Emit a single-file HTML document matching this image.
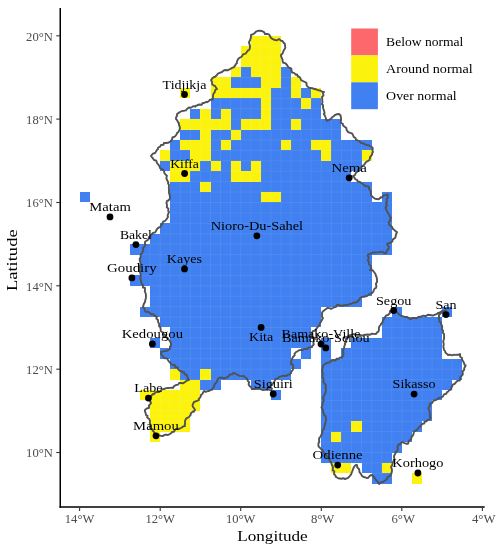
<!DOCTYPE html>
<html><head><meta charset="utf-8"><title>Map</title>
<style>
html,body{margin:0;padding:0;background:#fff;}
svg{display:block;}
text{font-family:"Liberation Serif",serif;font-size:12.8px;fill:#000;}
text.ax{font-size:13.3px;fill:#4d4d4d;}
text.ttl{font-size:15.5px;fill:#000;}
text.lg{font-size:12.2px;fill:#000;}
</style></head><body>
<svg width="499" height="550" viewBox="0 0 499 550">
<rect width="499" height="550" fill="#fff"/>
<g shape-rendering="crispEdges">
<rect x="250.79" y="35.80" width="10.07" height="10.42" fill="#FBF30E"/>
<rect x="260.86" y="35.80" width="10.07" height="10.42" fill="#FBF30E"/>
<rect x="270.93" y="35.80" width="10.07" height="10.42" fill="#FBF30E"/>
<rect x="240.72" y="46.22" width="10.07" height="10.42" fill="#FBF30E"/>
<rect x="250.79" y="46.22" width="10.07" height="10.42" fill="#FBF30E"/>
<rect x="260.86" y="46.22" width="10.07" height="10.42" fill="#FBF30E"/>
<rect x="270.93" y="46.22" width="10.07" height="10.42" fill="#FBF30E"/>
<rect x="240.72" y="56.63" width="10.07" height="10.42" fill="#FBF30E"/>
<rect x="250.79" y="56.63" width="10.07" height="10.42" fill="#FBF30E"/>
<rect x="260.86" y="56.63" width="10.07" height="10.42" fill="#FBF30E"/>
<rect x="270.93" y="56.63" width="10.07" height="10.42" fill="#FBF30E"/>
<rect x="230.65" y="67.05" width="10.07" height="10.42" fill="#FBF30E"/>
<rect x="240.72" y="67.05" width="10.07" height="10.42" fill="#4080F0"/>
<rect x="250.79" y="67.05" width="10.07" height="10.42" fill="#FBF30E"/>
<rect x="260.86" y="67.05" width="10.07" height="10.42" fill="#FBF30E"/>
<rect x="270.93" y="67.05" width="10.07" height="10.42" fill="#FBF30E"/>
<rect x="281.00" y="67.05" width="10.07" height="10.42" fill="#4080F0"/>
<rect x="210.51" y="77.47" width="10.07" height="10.42" fill="#FBF30E"/>
<rect x="220.58" y="77.47" width="10.07" height="10.42" fill="#FBF30E"/>
<rect x="230.65" y="77.47" width="10.07" height="10.42" fill="#4080F0"/>
<rect x="240.72" y="77.47" width="10.07" height="10.42" fill="#4080F0"/>
<rect x="250.79" y="77.47" width="10.07" height="10.42" fill="#4080F0"/>
<rect x="260.86" y="77.47" width="10.07" height="10.42" fill="#FBF30E"/>
<rect x="270.93" y="77.47" width="10.07" height="10.42" fill="#FBF30E"/>
<rect x="281.00" y="77.47" width="10.07" height="10.42" fill="#4080F0"/>
<rect x="291.07" y="77.47" width="10.07" height="10.42" fill="#FBF30E"/>
<rect x="180.30" y="87.89" width="10.07" height="10.42" fill="#FBF30E"/>
<rect x="210.51" y="87.89" width="10.07" height="10.42" fill="#FBF30E"/>
<rect x="220.58" y="87.89" width="10.07" height="10.42" fill="#FBF30E"/>
<rect x="230.65" y="87.89" width="10.07" height="10.42" fill="#FBF30E"/>
<rect x="240.72" y="87.89" width="10.07" height="10.42" fill="#FBF30E"/>
<rect x="250.79" y="87.89" width="10.07" height="10.42" fill="#FBF30E"/>
<rect x="260.86" y="87.89" width="10.07" height="10.42" fill="#FBF30E"/>
<rect x="270.93" y="87.89" width="10.07" height="10.42" fill="#4080F0"/>
<rect x="281.00" y="87.89" width="10.07" height="10.42" fill="#4080F0"/>
<rect x="291.07" y="87.89" width="10.07" height="10.42" fill="#FBF30E"/>
<rect x="301.14" y="87.89" width="10.07" height="10.42" fill="#4080F0"/>
<rect x="311.21" y="87.89" width="10.07" height="10.42" fill="#FBF30E"/>
<rect x="210.51" y="98.31" width="10.07" height="10.42" fill="#4080F0"/>
<rect x="220.58" y="98.31" width="10.07" height="10.42" fill="#4080F0"/>
<rect x="230.65" y="98.31" width="10.07" height="10.42" fill="#4080F0"/>
<rect x="240.72" y="98.31" width="10.07" height="10.42" fill="#4080F0"/>
<rect x="250.79" y="98.31" width="10.07" height="10.42" fill="#4080F0"/>
<rect x="260.86" y="98.31" width="10.07" height="10.42" fill="#FBF30E"/>
<rect x="270.93" y="98.31" width="10.07" height="10.42" fill="#4080F0"/>
<rect x="281.00" y="98.31" width="10.07" height="10.42" fill="#4080F0"/>
<rect x="291.07" y="98.31" width="10.07" height="10.42" fill="#4080F0"/>
<rect x="301.14" y="98.31" width="10.07" height="10.42" fill="#FBF30E"/>
<rect x="311.21" y="98.31" width="10.07" height="10.42" fill="#4080F0"/>
<rect x="190.37" y="108.72" width="10.07" height="10.42" fill="#4080F0"/>
<rect x="200.44" y="108.72" width="10.07" height="10.42" fill="#FBF30E"/>
<rect x="210.51" y="108.72" width="10.07" height="10.42" fill="#4080F0"/>
<rect x="220.58" y="108.72" width="10.07" height="10.42" fill="#FBF30E"/>
<rect x="230.65" y="108.72" width="10.07" height="10.42" fill="#4080F0"/>
<rect x="240.72" y="108.72" width="10.07" height="10.42" fill="#4080F0"/>
<rect x="250.79" y="108.72" width="10.07" height="10.42" fill="#4080F0"/>
<rect x="260.86" y="108.72" width="10.07" height="10.42" fill="#FBF30E"/>
<rect x="270.93" y="108.72" width="10.07" height="10.42" fill="#4080F0"/>
<rect x="281.00" y="108.72" width="10.07" height="10.42" fill="#4080F0"/>
<rect x="291.07" y="108.72" width="10.07" height="10.42" fill="#4080F0"/>
<rect x="301.14" y="108.72" width="10.07" height="10.42" fill="#4080F0"/>
<rect x="311.21" y="108.72" width="10.07" height="10.42" fill="#4080F0"/>
<rect x="180.30" y="119.14" width="10.07" height="10.42" fill="#FBF30E"/>
<rect x="190.37" y="119.14" width="10.07" height="10.42" fill="#FBF30E"/>
<rect x="200.44" y="119.14" width="10.07" height="10.42" fill="#FBF30E"/>
<rect x="210.51" y="119.14" width="10.07" height="10.42" fill="#FBF30E"/>
<rect x="220.58" y="119.14" width="10.07" height="10.42" fill="#FBF30E"/>
<rect x="230.65" y="119.14" width="10.07" height="10.42" fill="#4080F0"/>
<rect x="240.72" y="119.14" width="10.07" height="10.42" fill="#FBF30E"/>
<rect x="250.79" y="119.14" width="10.07" height="10.42" fill="#FBF30E"/>
<rect x="260.86" y="119.14" width="10.07" height="10.42" fill="#FBF30E"/>
<rect x="270.93" y="119.14" width="10.07" height="10.42" fill="#4080F0"/>
<rect x="281.00" y="119.14" width="10.07" height="10.42" fill="#4080F0"/>
<rect x="291.07" y="119.14" width="10.07" height="10.42" fill="#FBF30E"/>
<rect x="301.14" y="119.14" width="10.07" height="10.42" fill="#4080F0"/>
<rect x="311.21" y="119.14" width="10.07" height="10.42" fill="#4080F0"/>
<rect x="321.28" y="119.14" width="10.07" height="10.42" fill="#4080F0"/>
<rect x="331.35" y="119.14" width="10.07" height="10.42" fill="#4080F0"/>
<rect x="180.30" y="129.56" width="10.07" height="10.42" fill="#4080F0"/>
<rect x="190.37" y="129.56" width="10.07" height="10.42" fill="#4080F0"/>
<rect x="200.44" y="129.56" width="10.07" height="10.42" fill="#FBF30E"/>
<rect x="210.51" y="129.56" width="10.07" height="10.42" fill="#4080F0"/>
<rect x="220.58" y="129.56" width="10.07" height="10.42" fill="#4080F0"/>
<rect x="230.65" y="129.56" width="10.07" height="10.42" fill="#FBF30E"/>
<rect x="240.72" y="129.56" width="10.07" height="10.42" fill="#4080F0"/>
<rect x="250.79" y="129.56" width="10.07" height="10.42" fill="#4080F0"/>
<rect x="260.86" y="129.56" width="10.07" height="10.42" fill="#4080F0"/>
<rect x="270.93" y="129.56" width="10.07" height="10.42" fill="#4080F0"/>
<rect x="281.00" y="129.56" width="10.07" height="10.42" fill="#4080F0"/>
<rect x="291.07" y="129.56" width="10.07" height="10.42" fill="#4080F0"/>
<rect x="301.14" y="129.56" width="10.07" height="10.42" fill="#4080F0"/>
<rect x="311.21" y="129.56" width="10.07" height="10.42" fill="#4080F0"/>
<rect x="321.28" y="129.56" width="10.07" height="10.42" fill="#4080F0"/>
<rect x="331.35" y="129.56" width="10.07" height="10.42" fill="#4080F0"/>
<rect x="170.23" y="139.97" width="10.07" height="10.42" fill="#4080F0"/>
<rect x="180.30" y="139.97" width="10.07" height="10.42" fill="#FBF30E"/>
<rect x="190.37" y="139.97" width="10.07" height="10.42" fill="#FBF30E"/>
<rect x="200.44" y="139.97" width="10.07" height="10.42" fill="#FBF30E"/>
<rect x="210.51" y="139.97" width="10.07" height="10.42" fill="#4080F0"/>
<rect x="220.58" y="139.97" width="10.07" height="10.42" fill="#FBF30E"/>
<rect x="230.65" y="139.97" width="10.07" height="10.42" fill="#4080F0"/>
<rect x="240.72" y="139.97" width="10.07" height="10.42" fill="#4080F0"/>
<rect x="250.79" y="139.97" width="10.07" height="10.42" fill="#4080F0"/>
<rect x="260.86" y="139.97" width="10.07" height="10.42" fill="#4080F0"/>
<rect x="270.93" y="139.97" width="10.07" height="10.42" fill="#4080F0"/>
<rect x="281.00" y="139.97" width="10.07" height="10.42" fill="#FBF30E"/>
<rect x="291.07" y="139.97" width="10.07" height="10.42" fill="#4080F0"/>
<rect x="301.14" y="139.97" width="10.07" height="10.42" fill="#4080F0"/>
<rect x="311.21" y="139.97" width="10.07" height="10.42" fill="#FBF30E"/>
<rect x="321.28" y="139.97" width="10.07" height="10.42" fill="#FBF30E"/>
<rect x="331.35" y="139.97" width="10.07" height="10.42" fill="#4080F0"/>
<rect x="341.42" y="139.97" width="10.07" height="10.42" fill="#4080F0"/>
<rect x="351.49" y="139.97" width="10.07" height="10.42" fill="#4080F0"/>
<rect x="361.56" y="139.97" width="10.07" height="10.42" fill="#4080F0"/>
<rect x="160.16" y="150.39" width="10.07" height="10.42" fill="#FBF30E"/>
<rect x="170.23" y="150.39" width="10.07" height="10.42" fill="#4080F0"/>
<rect x="180.30" y="150.39" width="10.07" height="10.42" fill="#4080F0"/>
<rect x="190.37" y="150.39" width="10.07" height="10.42" fill="#FBF30E"/>
<rect x="200.44" y="150.39" width="10.07" height="10.42" fill="#FBF30E"/>
<rect x="210.51" y="150.39" width="10.07" height="10.42" fill="#4080F0"/>
<rect x="220.58" y="150.39" width="10.07" height="10.42" fill="#4080F0"/>
<rect x="230.65" y="150.39" width="10.07" height="10.42" fill="#4080F0"/>
<rect x="240.72" y="150.39" width="10.07" height="10.42" fill="#4080F0"/>
<rect x="250.79" y="150.39" width="10.07" height="10.42" fill="#4080F0"/>
<rect x="260.86" y="150.39" width="10.07" height="10.42" fill="#4080F0"/>
<rect x="270.93" y="150.39" width="10.07" height="10.42" fill="#4080F0"/>
<rect x="281.00" y="150.39" width="10.07" height="10.42" fill="#4080F0"/>
<rect x="291.07" y="150.39" width="10.07" height="10.42" fill="#4080F0"/>
<rect x="301.14" y="150.39" width="10.07" height="10.42" fill="#4080F0"/>
<rect x="311.21" y="150.39" width="10.07" height="10.42" fill="#4080F0"/>
<rect x="321.28" y="150.39" width="10.07" height="10.42" fill="#FBF30E"/>
<rect x="331.35" y="150.39" width="10.07" height="10.42" fill="#4080F0"/>
<rect x="341.42" y="150.39" width="10.07" height="10.42" fill="#4080F0"/>
<rect x="351.49" y="150.39" width="10.07" height="10.42" fill="#4080F0"/>
<rect x="361.56" y="150.39" width="10.07" height="10.42" fill="#FBF30E"/>
<rect x="160.16" y="160.81" width="10.07" height="10.42" fill="#4080F0"/>
<rect x="170.23" y="160.81" width="10.07" height="10.42" fill="#FBF30E"/>
<rect x="180.30" y="160.81" width="10.07" height="10.42" fill="#FBF30E"/>
<rect x="190.37" y="160.81" width="10.07" height="10.42" fill="#FBF30E"/>
<rect x="200.44" y="160.81" width="10.07" height="10.42" fill="#4080F0"/>
<rect x="210.51" y="160.81" width="10.07" height="10.42" fill="#FBF30E"/>
<rect x="220.58" y="160.81" width="10.07" height="10.42" fill="#4080F0"/>
<rect x="230.65" y="160.81" width="10.07" height="10.42" fill="#FBF30E"/>
<rect x="240.72" y="160.81" width="10.07" height="10.42" fill="#4080F0"/>
<rect x="250.79" y="160.81" width="10.07" height="10.42" fill="#FBF30E"/>
<rect x="260.86" y="160.81" width="10.07" height="10.42" fill="#4080F0"/>
<rect x="270.93" y="160.81" width="10.07" height="10.42" fill="#4080F0"/>
<rect x="281.00" y="160.81" width="10.07" height="10.42" fill="#4080F0"/>
<rect x="291.07" y="160.81" width="10.07" height="10.42" fill="#4080F0"/>
<rect x="301.14" y="160.81" width="10.07" height="10.42" fill="#4080F0"/>
<rect x="311.21" y="160.81" width="10.07" height="10.42" fill="#4080F0"/>
<rect x="321.28" y="160.81" width="10.07" height="10.42" fill="#4080F0"/>
<rect x="331.35" y="160.81" width="10.07" height="10.42" fill="#4080F0"/>
<rect x="341.42" y="160.81" width="10.07" height="10.42" fill="#4080F0"/>
<rect x="351.49" y="160.81" width="10.07" height="10.42" fill="#4080F0"/>
<rect x="170.23" y="171.23" width="10.07" height="10.42" fill="#FBF30E"/>
<rect x="180.30" y="171.23" width="10.07" height="10.42" fill="#FBF30E"/>
<rect x="190.37" y="171.23" width="10.07" height="10.42" fill="#4080F0"/>
<rect x="200.44" y="171.23" width="10.07" height="10.42" fill="#4080F0"/>
<rect x="210.51" y="171.23" width="10.07" height="10.42" fill="#4080F0"/>
<rect x="220.58" y="171.23" width="10.07" height="10.42" fill="#4080F0"/>
<rect x="230.65" y="171.23" width="10.07" height="10.42" fill="#FBF30E"/>
<rect x="240.72" y="171.23" width="10.07" height="10.42" fill="#FBF30E"/>
<rect x="250.79" y="171.23" width="10.07" height="10.42" fill="#FBF30E"/>
<rect x="260.86" y="171.23" width="10.07" height="10.42" fill="#4080F0"/>
<rect x="270.93" y="171.23" width="10.07" height="10.42" fill="#4080F0"/>
<rect x="281.00" y="171.23" width="10.07" height="10.42" fill="#4080F0"/>
<rect x="291.07" y="171.23" width="10.07" height="10.42" fill="#4080F0"/>
<rect x="301.14" y="171.23" width="10.07" height="10.42" fill="#4080F0"/>
<rect x="311.21" y="171.23" width="10.07" height="10.42" fill="#4080F0"/>
<rect x="321.28" y="171.23" width="10.07" height="10.42" fill="#4080F0"/>
<rect x="331.35" y="171.23" width="10.07" height="10.42" fill="#4080F0"/>
<rect x="341.42" y="171.23" width="10.07" height="10.42" fill="#4080F0"/>
<rect x="170.23" y="181.65" width="10.07" height="10.42" fill="#4080F0"/>
<rect x="180.30" y="181.65" width="10.07" height="10.42" fill="#4080F0"/>
<rect x="190.37" y="181.65" width="10.07" height="10.42" fill="#4080F0"/>
<rect x="200.44" y="181.65" width="10.07" height="10.42" fill="#FBF30E"/>
<rect x="210.51" y="181.65" width="10.07" height="10.42" fill="#4080F0"/>
<rect x="220.58" y="181.65" width="10.07" height="10.42" fill="#4080F0"/>
<rect x="230.65" y="181.65" width="10.07" height="10.42" fill="#4080F0"/>
<rect x="240.72" y="181.65" width="10.07" height="10.42" fill="#4080F0"/>
<rect x="250.79" y="181.65" width="10.07" height="10.42" fill="#4080F0"/>
<rect x="260.86" y="181.65" width="10.07" height="10.42" fill="#4080F0"/>
<rect x="270.93" y="181.65" width="10.07" height="10.42" fill="#4080F0"/>
<rect x="281.00" y="181.65" width="10.07" height="10.42" fill="#4080F0"/>
<rect x="291.07" y="181.65" width="10.07" height="10.42" fill="#4080F0"/>
<rect x="301.14" y="181.65" width="10.07" height="10.42" fill="#4080F0"/>
<rect x="311.21" y="181.65" width="10.07" height="10.42" fill="#4080F0"/>
<rect x="321.28" y="181.65" width="10.07" height="10.42" fill="#4080F0"/>
<rect x="331.35" y="181.65" width="10.07" height="10.42" fill="#4080F0"/>
<rect x="341.42" y="181.65" width="10.07" height="10.42" fill="#4080F0"/>
<rect x="351.49" y="181.65" width="10.07" height="10.42" fill="#4080F0"/>
<rect x="361.56" y="181.65" width="10.07" height="10.42" fill="#4080F0"/>
<rect x="79.60" y="192.06" width="10.07" height="10.42" fill="#4080F0"/>
<rect x="170.23" y="192.06" width="10.07" height="10.42" fill="#4080F0"/>
<rect x="180.30" y="192.06" width="10.07" height="10.42" fill="#4080F0"/>
<rect x="190.37" y="192.06" width="10.07" height="10.42" fill="#4080F0"/>
<rect x="200.44" y="192.06" width="10.07" height="10.42" fill="#4080F0"/>
<rect x="210.51" y="192.06" width="10.07" height="10.42" fill="#4080F0"/>
<rect x="220.58" y="192.06" width="10.07" height="10.42" fill="#4080F0"/>
<rect x="230.65" y="192.06" width="10.07" height="10.42" fill="#4080F0"/>
<rect x="240.72" y="192.06" width="10.07" height="10.42" fill="#4080F0"/>
<rect x="250.79" y="192.06" width="10.07" height="10.42" fill="#4080F0"/>
<rect x="260.86" y="192.06" width="10.07" height="10.42" fill="#FBF30E"/>
<rect x="270.93" y="192.06" width="10.07" height="10.42" fill="#FBF30E"/>
<rect x="281.00" y="192.06" width="10.07" height="10.42" fill="#4080F0"/>
<rect x="291.07" y="192.06" width="10.07" height="10.42" fill="#4080F0"/>
<rect x="301.14" y="192.06" width="10.07" height="10.42" fill="#4080F0"/>
<rect x="311.21" y="192.06" width="10.07" height="10.42" fill="#4080F0"/>
<rect x="321.28" y="192.06" width="10.07" height="10.42" fill="#4080F0"/>
<rect x="331.35" y="192.06" width="10.07" height="10.42" fill="#4080F0"/>
<rect x="341.42" y="192.06" width="10.07" height="10.42" fill="#4080F0"/>
<rect x="351.49" y="192.06" width="10.07" height="10.42" fill="#4080F0"/>
<rect x="361.56" y="192.06" width="10.07" height="10.42" fill="#4080F0"/>
<rect x="381.70" y="192.06" width="10.07" height="10.42" fill="#4080F0"/>
<rect x="170.23" y="202.48" width="10.07" height="10.42" fill="#4080F0"/>
<rect x="180.30" y="202.48" width="10.07" height="10.42" fill="#4080F0"/>
<rect x="190.37" y="202.48" width="10.07" height="10.42" fill="#4080F0"/>
<rect x="200.44" y="202.48" width="10.07" height="10.42" fill="#4080F0"/>
<rect x="210.51" y="202.48" width="10.07" height="10.42" fill="#4080F0"/>
<rect x="220.58" y="202.48" width="10.07" height="10.42" fill="#4080F0"/>
<rect x="230.65" y="202.48" width="10.07" height="10.42" fill="#4080F0"/>
<rect x="240.72" y="202.48" width="10.07" height="10.42" fill="#4080F0"/>
<rect x="250.79" y="202.48" width="10.07" height="10.42" fill="#4080F0"/>
<rect x="260.86" y="202.48" width="10.07" height="10.42" fill="#4080F0"/>
<rect x="270.93" y="202.48" width="10.07" height="10.42" fill="#4080F0"/>
<rect x="281.00" y="202.48" width="10.07" height="10.42" fill="#4080F0"/>
<rect x="291.07" y="202.48" width="10.07" height="10.42" fill="#4080F0"/>
<rect x="301.14" y="202.48" width="10.07" height="10.42" fill="#4080F0"/>
<rect x="311.21" y="202.48" width="10.07" height="10.42" fill="#4080F0"/>
<rect x="321.28" y="202.48" width="10.07" height="10.42" fill="#4080F0"/>
<rect x="331.35" y="202.48" width="10.07" height="10.42" fill="#4080F0"/>
<rect x="341.42" y="202.48" width="10.07" height="10.42" fill="#4080F0"/>
<rect x="351.49" y="202.48" width="10.07" height="10.42" fill="#4080F0"/>
<rect x="361.56" y="202.48" width="10.07" height="10.42" fill="#4080F0"/>
<rect x="371.63" y="202.48" width="10.07" height="10.42" fill="#4080F0"/>
<rect x="381.70" y="202.48" width="10.07" height="10.42" fill="#4080F0"/>
<rect x="170.23" y="212.90" width="10.07" height="10.42" fill="#4080F0"/>
<rect x="180.30" y="212.90" width="10.07" height="10.42" fill="#4080F0"/>
<rect x="190.37" y="212.90" width="10.07" height="10.42" fill="#4080F0"/>
<rect x="200.44" y="212.90" width="10.07" height="10.42" fill="#4080F0"/>
<rect x="210.51" y="212.90" width="10.07" height="10.42" fill="#4080F0"/>
<rect x="220.58" y="212.90" width="10.07" height="10.42" fill="#4080F0"/>
<rect x="230.65" y="212.90" width="10.07" height="10.42" fill="#4080F0"/>
<rect x="240.72" y="212.90" width="10.07" height="10.42" fill="#4080F0"/>
<rect x="250.79" y="212.90" width="10.07" height="10.42" fill="#4080F0"/>
<rect x="260.86" y="212.90" width="10.07" height="10.42" fill="#4080F0"/>
<rect x="270.93" y="212.90" width="10.07" height="10.42" fill="#4080F0"/>
<rect x="281.00" y="212.90" width="10.07" height="10.42" fill="#4080F0"/>
<rect x="291.07" y="212.90" width="10.07" height="10.42" fill="#4080F0"/>
<rect x="301.14" y="212.90" width="10.07" height="10.42" fill="#4080F0"/>
<rect x="311.21" y="212.90" width="10.07" height="10.42" fill="#4080F0"/>
<rect x="321.28" y="212.90" width="10.07" height="10.42" fill="#4080F0"/>
<rect x="331.35" y="212.90" width="10.07" height="10.42" fill="#4080F0"/>
<rect x="341.42" y="212.90" width="10.07" height="10.42" fill="#4080F0"/>
<rect x="351.49" y="212.90" width="10.07" height="10.42" fill="#4080F0"/>
<rect x="361.56" y="212.90" width="10.07" height="10.42" fill="#4080F0"/>
<rect x="371.63" y="212.90" width="10.07" height="10.42" fill="#4080F0"/>
<rect x="381.70" y="212.90" width="10.07" height="10.42" fill="#4080F0"/>
<rect x="160.16" y="223.31" width="10.07" height="10.42" fill="#4080F0"/>
<rect x="170.23" y="223.31" width="10.07" height="10.42" fill="#4080F0"/>
<rect x="180.30" y="223.31" width="10.07" height="10.42" fill="#4080F0"/>
<rect x="190.37" y="223.31" width="10.07" height="10.42" fill="#4080F0"/>
<rect x="200.44" y="223.31" width="10.07" height="10.42" fill="#4080F0"/>
<rect x="210.51" y="223.31" width="10.07" height="10.42" fill="#4080F0"/>
<rect x="220.58" y="223.31" width="10.07" height="10.42" fill="#4080F0"/>
<rect x="230.65" y="223.31" width="10.07" height="10.42" fill="#4080F0"/>
<rect x="240.72" y="223.31" width="10.07" height="10.42" fill="#4080F0"/>
<rect x="250.79" y="223.31" width="10.07" height="10.42" fill="#4080F0"/>
<rect x="260.86" y="223.31" width="10.07" height="10.42" fill="#4080F0"/>
<rect x="270.93" y="223.31" width="10.07" height="10.42" fill="#4080F0"/>
<rect x="281.00" y="223.31" width="10.07" height="10.42" fill="#4080F0"/>
<rect x="291.07" y="223.31" width="10.07" height="10.42" fill="#4080F0"/>
<rect x="301.14" y="223.31" width="10.07" height="10.42" fill="#4080F0"/>
<rect x="311.21" y="223.31" width="10.07" height="10.42" fill="#4080F0"/>
<rect x="321.28" y="223.31" width="10.07" height="10.42" fill="#4080F0"/>
<rect x="331.35" y="223.31" width="10.07" height="10.42" fill="#4080F0"/>
<rect x="341.42" y="223.31" width="10.07" height="10.42" fill="#4080F0"/>
<rect x="351.49" y="223.31" width="10.07" height="10.42" fill="#4080F0"/>
<rect x="361.56" y="223.31" width="10.07" height="10.42" fill="#4080F0"/>
<rect x="371.63" y="223.31" width="10.07" height="10.42" fill="#4080F0"/>
<rect x="381.70" y="223.31" width="10.07" height="10.42" fill="#4080F0"/>
<rect x="150.09" y="233.73" width="10.07" height="10.42" fill="#4080F0"/>
<rect x="160.16" y="233.73" width="10.07" height="10.42" fill="#4080F0"/>
<rect x="170.23" y="233.73" width="10.07" height="10.42" fill="#4080F0"/>
<rect x="180.30" y="233.73" width="10.07" height="10.42" fill="#4080F0"/>
<rect x="190.37" y="233.73" width="10.07" height="10.42" fill="#4080F0"/>
<rect x="200.44" y="233.73" width="10.07" height="10.42" fill="#4080F0"/>
<rect x="210.51" y="233.73" width="10.07" height="10.42" fill="#4080F0"/>
<rect x="220.58" y="233.73" width="10.07" height="10.42" fill="#4080F0"/>
<rect x="230.65" y="233.73" width="10.07" height="10.42" fill="#4080F0"/>
<rect x="240.72" y="233.73" width="10.07" height="10.42" fill="#4080F0"/>
<rect x="250.79" y="233.73" width="10.07" height="10.42" fill="#4080F0"/>
<rect x="260.86" y="233.73" width="10.07" height="10.42" fill="#4080F0"/>
<rect x="270.93" y="233.73" width="10.07" height="10.42" fill="#4080F0"/>
<rect x="281.00" y="233.73" width="10.07" height="10.42" fill="#4080F0"/>
<rect x="291.07" y="233.73" width="10.07" height="10.42" fill="#4080F0"/>
<rect x="301.14" y="233.73" width="10.07" height="10.42" fill="#4080F0"/>
<rect x="311.21" y="233.73" width="10.07" height="10.42" fill="#4080F0"/>
<rect x="321.28" y="233.73" width="10.07" height="10.42" fill="#4080F0"/>
<rect x="331.35" y="233.73" width="10.07" height="10.42" fill="#4080F0"/>
<rect x="341.42" y="233.73" width="10.07" height="10.42" fill="#4080F0"/>
<rect x="351.49" y="233.73" width="10.07" height="10.42" fill="#4080F0"/>
<rect x="361.56" y="233.73" width="10.07" height="10.42" fill="#4080F0"/>
<rect x="371.63" y="233.73" width="10.07" height="10.42" fill="#4080F0"/>
<rect x="381.70" y="233.73" width="10.07" height="10.42" fill="#4080F0"/>
<rect x="129.95" y="244.15" width="10.07" height="10.42" fill="#4080F0"/>
<rect x="140.02" y="244.15" width="10.07" height="10.42" fill="#4080F0"/>
<rect x="150.09" y="244.15" width="10.07" height="10.42" fill="#4080F0"/>
<rect x="160.16" y="244.15" width="10.07" height="10.42" fill="#4080F0"/>
<rect x="170.23" y="244.15" width="10.07" height="10.42" fill="#4080F0"/>
<rect x="180.30" y="244.15" width="10.07" height="10.42" fill="#4080F0"/>
<rect x="190.37" y="244.15" width="10.07" height="10.42" fill="#4080F0"/>
<rect x="200.44" y="244.15" width="10.07" height="10.42" fill="#4080F0"/>
<rect x="210.51" y="244.15" width="10.07" height="10.42" fill="#4080F0"/>
<rect x="220.58" y="244.15" width="10.07" height="10.42" fill="#4080F0"/>
<rect x="230.65" y="244.15" width="10.07" height="10.42" fill="#4080F0"/>
<rect x="240.72" y="244.15" width="10.07" height="10.42" fill="#4080F0"/>
<rect x="250.79" y="244.15" width="10.07" height="10.42" fill="#4080F0"/>
<rect x="260.86" y="244.15" width="10.07" height="10.42" fill="#4080F0"/>
<rect x="270.93" y="244.15" width="10.07" height="10.42" fill="#4080F0"/>
<rect x="281.00" y="244.15" width="10.07" height="10.42" fill="#4080F0"/>
<rect x="291.07" y="244.15" width="10.07" height="10.42" fill="#4080F0"/>
<rect x="301.14" y="244.15" width="10.07" height="10.42" fill="#4080F0"/>
<rect x="311.21" y="244.15" width="10.07" height="10.42" fill="#4080F0"/>
<rect x="321.28" y="244.15" width="10.07" height="10.42" fill="#4080F0"/>
<rect x="331.35" y="244.15" width="10.07" height="10.42" fill="#4080F0"/>
<rect x="341.42" y="244.15" width="10.07" height="10.42" fill="#4080F0"/>
<rect x="351.49" y="244.15" width="10.07" height="10.42" fill="#4080F0"/>
<rect x="361.56" y="244.15" width="10.07" height="10.42" fill="#4080F0"/>
<rect x="371.63" y="244.15" width="10.07" height="10.42" fill="#4080F0"/>
<rect x="381.70" y="244.15" width="10.07" height="10.42" fill="#4080F0"/>
<rect x="140.02" y="254.57" width="10.07" height="10.42" fill="#4080F0"/>
<rect x="150.09" y="254.57" width="10.07" height="10.42" fill="#4080F0"/>
<rect x="160.16" y="254.57" width="10.07" height="10.42" fill="#4080F0"/>
<rect x="170.23" y="254.57" width="10.07" height="10.42" fill="#4080F0"/>
<rect x="180.30" y="254.57" width="10.07" height="10.42" fill="#4080F0"/>
<rect x="190.37" y="254.57" width="10.07" height="10.42" fill="#4080F0"/>
<rect x="200.44" y="254.57" width="10.07" height="10.42" fill="#4080F0"/>
<rect x="210.51" y="254.57" width="10.07" height="10.42" fill="#4080F0"/>
<rect x="220.58" y="254.57" width="10.07" height="10.42" fill="#4080F0"/>
<rect x="230.65" y="254.57" width="10.07" height="10.42" fill="#4080F0"/>
<rect x="240.72" y="254.57" width="10.07" height="10.42" fill="#4080F0"/>
<rect x="250.79" y="254.57" width="10.07" height="10.42" fill="#4080F0"/>
<rect x="260.86" y="254.57" width="10.07" height="10.42" fill="#4080F0"/>
<rect x="270.93" y="254.57" width="10.07" height="10.42" fill="#4080F0"/>
<rect x="281.00" y="254.57" width="10.07" height="10.42" fill="#4080F0"/>
<rect x="291.07" y="254.57" width="10.07" height="10.42" fill="#4080F0"/>
<rect x="301.14" y="254.57" width="10.07" height="10.42" fill="#4080F0"/>
<rect x="311.21" y="254.57" width="10.07" height="10.42" fill="#4080F0"/>
<rect x="321.28" y="254.57" width="10.07" height="10.42" fill="#4080F0"/>
<rect x="331.35" y="254.57" width="10.07" height="10.42" fill="#4080F0"/>
<rect x="341.42" y="254.57" width="10.07" height="10.42" fill="#4080F0"/>
<rect x="351.49" y="254.57" width="10.07" height="10.42" fill="#4080F0"/>
<rect x="361.56" y="254.57" width="10.07" height="10.42" fill="#4080F0"/>
<rect x="140.02" y="264.99" width="10.07" height="10.42" fill="#4080F0"/>
<rect x="150.09" y="264.99" width="10.07" height="10.42" fill="#4080F0"/>
<rect x="160.16" y="264.99" width="10.07" height="10.42" fill="#4080F0"/>
<rect x="170.23" y="264.99" width="10.07" height="10.42" fill="#4080F0"/>
<rect x="180.30" y="264.99" width="10.07" height="10.42" fill="#4080F0"/>
<rect x="190.37" y="264.99" width="10.07" height="10.42" fill="#4080F0"/>
<rect x="200.44" y="264.99" width="10.07" height="10.42" fill="#4080F0"/>
<rect x="210.51" y="264.99" width="10.07" height="10.42" fill="#4080F0"/>
<rect x="220.58" y="264.99" width="10.07" height="10.42" fill="#4080F0"/>
<rect x="230.65" y="264.99" width="10.07" height="10.42" fill="#4080F0"/>
<rect x="240.72" y="264.99" width="10.07" height="10.42" fill="#4080F0"/>
<rect x="250.79" y="264.99" width="10.07" height="10.42" fill="#4080F0"/>
<rect x="260.86" y="264.99" width="10.07" height="10.42" fill="#4080F0"/>
<rect x="270.93" y="264.99" width="10.07" height="10.42" fill="#4080F0"/>
<rect x="281.00" y="264.99" width="10.07" height="10.42" fill="#4080F0"/>
<rect x="291.07" y="264.99" width="10.07" height="10.42" fill="#4080F0"/>
<rect x="301.14" y="264.99" width="10.07" height="10.42" fill="#4080F0"/>
<rect x="311.21" y="264.99" width="10.07" height="10.42" fill="#4080F0"/>
<rect x="321.28" y="264.99" width="10.07" height="10.42" fill="#4080F0"/>
<rect x="331.35" y="264.99" width="10.07" height="10.42" fill="#4080F0"/>
<rect x="341.42" y="264.99" width="10.07" height="10.42" fill="#4080F0"/>
<rect x="351.49" y="264.99" width="10.07" height="10.42" fill="#4080F0"/>
<rect x="361.56" y="264.99" width="10.07" height="10.42" fill="#4080F0"/>
<rect x="129.95" y="275.40" width="10.07" height="10.42" fill="#4080F0"/>
<rect x="140.02" y="275.40" width="10.07" height="10.42" fill="#4080F0"/>
<rect x="150.09" y="275.40" width="10.07" height="10.42" fill="#4080F0"/>
<rect x="160.16" y="275.40" width="10.07" height="10.42" fill="#4080F0"/>
<rect x="170.23" y="275.40" width="10.07" height="10.42" fill="#4080F0"/>
<rect x="180.30" y="275.40" width="10.07" height="10.42" fill="#4080F0"/>
<rect x="190.37" y="275.40" width="10.07" height="10.42" fill="#4080F0"/>
<rect x="200.44" y="275.40" width="10.07" height="10.42" fill="#4080F0"/>
<rect x="210.51" y="275.40" width="10.07" height="10.42" fill="#4080F0"/>
<rect x="220.58" y="275.40" width="10.07" height="10.42" fill="#4080F0"/>
<rect x="230.65" y="275.40" width="10.07" height="10.42" fill="#4080F0"/>
<rect x="240.72" y="275.40" width="10.07" height="10.42" fill="#4080F0"/>
<rect x="250.79" y="275.40" width="10.07" height="10.42" fill="#4080F0"/>
<rect x="260.86" y="275.40" width="10.07" height="10.42" fill="#4080F0"/>
<rect x="270.93" y="275.40" width="10.07" height="10.42" fill="#4080F0"/>
<rect x="281.00" y="275.40" width="10.07" height="10.42" fill="#4080F0"/>
<rect x="291.07" y="275.40" width="10.07" height="10.42" fill="#4080F0"/>
<rect x="301.14" y="275.40" width="10.07" height="10.42" fill="#4080F0"/>
<rect x="311.21" y="275.40" width="10.07" height="10.42" fill="#4080F0"/>
<rect x="321.28" y="275.40" width="10.07" height="10.42" fill="#4080F0"/>
<rect x="331.35" y="275.40" width="10.07" height="10.42" fill="#4080F0"/>
<rect x="341.42" y="275.40" width="10.07" height="10.42" fill="#4080F0"/>
<rect x="351.49" y="275.40" width="10.07" height="10.42" fill="#4080F0"/>
<rect x="361.56" y="275.40" width="10.07" height="10.42" fill="#4080F0"/>
<rect x="150.09" y="285.82" width="10.07" height="10.42" fill="#4080F0"/>
<rect x="160.16" y="285.82" width="10.07" height="10.42" fill="#4080F0"/>
<rect x="170.23" y="285.82" width="10.07" height="10.42" fill="#4080F0"/>
<rect x="180.30" y="285.82" width="10.07" height="10.42" fill="#4080F0"/>
<rect x="190.37" y="285.82" width="10.07" height="10.42" fill="#4080F0"/>
<rect x="200.44" y="285.82" width="10.07" height="10.42" fill="#4080F0"/>
<rect x="210.51" y="285.82" width="10.07" height="10.42" fill="#4080F0"/>
<rect x="220.58" y="285.82" width="10.07" height="10.42" fill="#4080F0"/>
<rect x="230.65" y="285.82" width="10.07" height="10.42" fill="#4080F0"/>
<rect x="240.72" y="285.82" width="10.07" height="10.42" fill="#4080F0"/>
<rect x="250.79" y="285.82" width="10.07" height="10.42" fill="#4080F0"/>
<rect x="260.86" y="285.82" width="10.07" height="10.42" fill="#4080F0"/>
<rect x="270.93" y="285.82" width="10.07" height="10.42" fill="#4080F0"/>
<rect x="281.00" y="285.82" width="10.07" height="10.42" fill="#4080F0"/>
<rect x="291.07" y="285.82" width="10.07" height="10.42" fill="#4080F0"/>
<rect x="301.14" y="285.82" width="10.07" height="10.42" fill="#4080F0"/>
<rect x="311.21" y="285.82" width="10.07" height="10.42" fill="#4080F0"/>
<rect x="321.28" y="285.82" width="10.07" height="10.42" fill="#4080F0"/>
<rect x="331.35" y="285.82" width="10.07" height="10.42" fill="#4080F0"/>
<rect x="341.42" y="285.82" width="10.07" height="10.42" fill="#4080F0"/>
<rect x="351.49" y="285.82" width="10.07" height="10.42" fill="#4080F0"/>
<rect x="361.56" y="285.82" width="10.07" height="10.42" fill="#4080F0"/>
<rect x="150.09" y="296.24" width="10.07" height="10.42" fill="#4080F0"/>
<rect x="160.16" y="296.24" width="10.07" height="10.42" fill="#4080F0"/>
<rect x="170.23" y="296.24" width="10.07" height="10.42" fill="#4080F0"/>
<rect x="180.30" y="296.24" width="10.07" height="10.42" fill="#4080F0"/>
<rect x="190.37" y="296.24" width="10.07" height="10.42" fill="#4080F0"/>
<rect x="200.44" y="296.24" width="10.07" height="10.42" fill="#4080F0"/>
<rect x="210.51" y="296.24" width="10.07" height="10.42" fill="#4080F0"/>
<rect x="220.58" y="296.24" width="10.07" height="10.42" fill="#4080F0"/>
<rect x="230.65" y="296.24" width="10.07" height="10.42" fill="#4080F0"/>
<rect x="240.72" y="296.24" width="10.07" height="10.42" fill="#4080F0"/>
<rect x="250.79" y="296.24" width="10.07" height="10.42" fill="#4080F0"/>
<rect x="260.86" y="296.24" width="10.07" height="10.42" fill="#4080F0"/>
<rect x="270.93" y="296.24" width="10.07" height="10.42" fill="#4080F0"/>
<rect x="281.00" y="296.24" width="10.07" height="10.42" fill="#4080F0"/>
<rect x="291.07" y="296.24" width="10.07" height="10.42" fill="#4080F0"/>
<rect x="301.14" y="296.24" width="10.07" height="10.42" fill="#4080F0"/>
<rect x="311.21" y="296.24" width="10.07" height="10.42" fill="#4080F0"/>
<rect x="321.28" y="296.24" width="10.07" height="10.42" fill="#4080F0"/>
<rect x="331.35" y="296.24" width="10.07" height="10.42" fill="#4080F0"/>
<rect x="341.42" y="296.24" width="10.07" height="10.42" fill="#4080F0"/>
<rect x="351.49" y="296.24" width="10.07" height="10.42" fill="#4080F0"/>
<rect x="140.02" y="306.66" width="10.07" height="10.42" fill="#4080F0"/>
<rect x="150.09" y="306.66" width="10.07" height="10.42" fill="#4080F0"/>
<rect x="160.16" y="306.66" width="10.07" height="10.42" fill="#4080F0"/>
<rect x="170.23" y="306.66" width="10.07" height="10.42" fill="#4080F0"/>
<rect x="180.30" y="306.66" width="10.07" height="10.42" fill="#4080F0"/>
<rect x="190.37" y="306.66" width="10.07" height="10.42" fill="#4080F0"/>
<rect x="200.44" y="306.66" width="10.07" height="10.42" fill="#4080F0"/>
<rect x="210.51" y="306.66" width="10.07" height="10.42" fill="#4080F0"/>
<rect x="220.58" y="306.66" width="10.07" height="10.42" fill="#4080F0"/>
<rect x="230.65" y="306.66" width="10.07" height="10.42" fill="#4080F0"/>
<rect x="240.72" y="306.66" width="10.07" height="10.42" fill="#4080F0"/>
<rect x="250.79" y="306.66" width="10.07" height="10.42" fill="#4080F0"/>
<rect x="260.86" y="306.66" width="10.07" height="10.42" fill="#4080F0"/>
<rect x="270.93" y="306.66" width="10.07" height="10.42" fill="#4080F0"/>
<rect x="281.00" y="306.66" width="10.07" height="10.42" fill="#4080F0"/>
<rect x="291.07" y="306.66" width="10.07" height="10.42" fill="#4080F0"/>
<rect x="301.14" y="306.66" width="10.07" height="10.42" fill="#4080F0"/>
<rect x="311.21" y="306.66" width="10.07" height="10.42" fill="#4080F0"/>
<rect x="391.77" y="306.66" width="10.07" height="10.42" fill="#4080F0"/>
<rect x="442.12" y="306.66" width="10.07" height="10.42" fill="#4080F0"/>
<rect x="160.16" y="317.07" width="10.07" height="10.42" fill="#4080F0"/>
<rect x="170.23" y="317.07" width="10.07" height="10.42" fill="#4080F0"/>
<rect x="180.30" y="317.07" width="10.07" height="10.42" fill="#4080F0"/>
<rect x="190.37" y="317.07" width="10.07" height="10.42" fill="#4080F0"/>
<rect x="200.44" y="317.07" width="10.07" height="10.42" fill="#4080F0"/>
<rect x="210.51" y="317.07" width="10.07" height="10.42" fill="#4080F0"/>
<rect x="220.58" y="317.07" width="10.07" height="10.42" fill="#4080F0"/>
<rect x="230.65" y="317.07" width="10.07" height="10.42" fill="#4080F0"/>
<rect x="240.72" y="317.07" width="10.07" height="10.42" fill="#4080F0"/>
<rect x="250.79" y="317.07" width="10.07" height="10.42" fill="#4080F0"/>
<rect x="260.86" y="317.07" width="10.07" height="10.42" fill="#4080F0"/>
<rect x="270.93" y="317.07" width="10.07" height="10.42" fill="#4080F0"/>
<rect x="281.00" y="317.07" width="10.07" height="10.42" fill="#4080F0"/>
<rect x="291.07" y="317.07" width="10.07" height="10.42" fill="#4080F0"/>
<rect x="301.14" y="317.07" width="10.07" height="10.42" fill="#4080F0"/>
<rect x="311.21" y="317.07" width="10.07" height="10.42" fill="#4080F0"/>
<rect x="381.70" y="317.07" width="10.07" height="10.42" fill="#4080F0"/>
<rect x="391.77" y="317.07" width="10.07" height="10.42" fill="#4080F0"/>
<rect x="401.84" y="317.07" width="10.07" height="10.42" fill="#4080F0"/>
<rect x="411.91" y="317.07" width="10.07" height="10.42" fill="#4080F0"/>
<rect x="421.98" y="317.07" width="10.07" height="10.42" fill="#4080F0"/>
<rect x="432.05" y="317.07" width="10.07" height="10.42" fill="#4080F0"/>
<rect x="170.23" y="327.49" width="10.07" height="10.42" fill="#4080F0"/>
<rect x="180.30" y="327.49" width="10.07" height="10.42" fill="#4080F0"/>
<rect x="190.37" y="327.49" width="10.07" height="10.42" fill="#4080F0"/>
<rect x="200.44" y="327.49" width="10.07" height="10.42" fill="#4080F0"/>
<rect x="210.51" y="327.49" width="10.07" height="10.42" fill="#4080F0"/>
<rect x="220.58" y="327.49" width="10.07" height="10.42" fill="#4080F0"/>
<rect x="230.65" y="327.49" width="10.07" height="10.42" fill="#4080F0"/>
<rect x="240.72" y="327.49" width="10.07" height="10.42" fill="#4080F0"/>
<rect x="250.79" y="327.49" width="10.07" height="10.42" fill="#4080F0"/>
<rect x="260.86" y="327.49" width="10.07" height="10.42" fill="#4080F0"/>
<rect x="270.93" y="327.49" width="10.07" height="10.42" fill="#4080F0"/>
<rect x="281.00" y="327.49" width="10.07" height="10.42" fill="#4080F0"/>
<rect x="291.07" y="327.49" width="10.07" height="10.42" fill="#4080F0"/>
<rect x="301.14" y="327.49" width="10.07" height="10.42" fill="#4080F0"/>
<rect x="381.70" y="327.49" width="10.07" height="10.42" fill="#4080F0"/>
<rect x="391.77" y="327.49" width="10.07" height="10.42" fill="#4080F0"/>
<rect x="401.84" y="327.49" width="10.07" height="10.42" fill="#4080F0"/>
<rect x="411.91" y="327.49" width="10.07" height="10.42" fill="#4080F0"/>
<rect x="421.98" y="327.49" width="10.07" height="10.42" fill="#4080F0"/>
<rect x="432.05" y="327.49" width="10.07" height="10.42" fill="#4080F0"/>
<rect x="150.09" y="337.91" width="10.07" height="10.42" fill="#4080F0"/>
<rect x="170.23" y="337.91" width="10.07" height="10.42" fill="#4080F0"/>
<rect x="180.30" y="337.91" width="10.07" height="10.42" fill="#4080F0"/>
<rect x="190.37" y="337.91" width="10.07" height="10.42" fill="#4080F0"/>
<rect x="200.44" y="337.91" width="10.07" height="10.42" fill="#4080F0"/>
<rect x="210.51" y="337.91" width="10.07" height="10.42" fill="#4080F0"/>
<rect x="220.58" y="337.91" width="10.07" height="10.42" fill="#4080F0"/>
<rect x="230.65" y="337.91" width="10.07" height="10.42" fill="#4080F0"/>
<rect x="240.72" y="337.91" width="10.07" height="10.42" fill="#4080F0"/>
<rect x="250.79" y="337.91" width="10.07" height="10.42" fill="#4080F0"/>
<rect x="260.86" y="337.91" width="10.07" height="10.42" fill="#4080F0"/>
<rect x="270.93" y="337.91" width="10.07" height="10.42" fill="#4080F0"/>
<rect x="281.00" y="337.91" width="10.07" height="10.42" fill="#4080F0"/>
<rect x="291.07" y="337.91" width="10.07" height="10.42" fill="#4080F0"/>
<rect x="301.14" y="337.91" width="10.07" height="10.42" fill="#4080F0"/>
<rect x="321.28" y="337.91" width="10.07" height="10.42" fill="#4080F0"/>
<rect x="351.49" y="337.91" width="10.07" height="10.42" fill="#4080F0"/>
<rect x="361.56" y="337.91" width="10.07" height="10.42" fill="#4080F0"/>
<rect x="371.63" y="337.91" width="10.07" height="10.42" fill="#4080F0"/>
<rect x="381.70" y="337.91" width="10.07" height="10.42" fill="#4080F0"/>
<rect x="391.77" y="337.91" width="10.07" height="10.42" fill="#4080F0"/>
<rect x="401.84" y="337.91" width="10.07" height="10.42" fill="#4080F0"/>
<rect x="411.91" y="337.91" width="10.07" height="10.42" fill="#4080F0"/>
<rect x="421.98" y="337.91" width="10.07" height="10.42" fill="#4080F0"/>
<rect x="432.05" y="337.91" width="10.07" height="10.42" fill="#4080F0"/>
<rect x="160.16" y="348.32" width="10.07" height="10.42" fill="#4080F0"/>
<rect x="170.23" y="348.32" width="10.07" height="10.42" fill="#4080F0"/>
<rect x="180.30" y="348.32" width="10.07" height="10.42" fill="#4080F0"/>
<rect x="190.37" y="348.32" width="10.07" height="10.42" fill="#4080F0"/>
<rect x="200.44" y="348.32" width="10.07" height="10.42" fill="#4080F0"/>
<rect x="210.51" y="348.32" width="10.07" height="10.42" fill="#4080F0"/>
<rect x="220.58" y="348.32" width="10.07" height="10.42" fill="#4080F0"/>
<rect x="230.65" y="348.32" width="10.07" height="10.42" fill="#4080F0"/>
<rect x="240.72" y="348.32" width="10.07" height="10.42" fill="#4080F0"/>
<rect x="250.79" y="348.32" width="10.07" height="10.42" fill="#4080F0"/>
<rect x="260.86" y="348.32" width="10.07" height="10.42" fill="#4080F0"/>
<rect x="270.93" y="348.32" width="10.07" height="10.42" fill="#4080F0"/>
<rect x="281.00" y="348.32" width="10.07" height="10.42" fill="#4080F0"/>
<rect x="301.14" y="348.32" width="10.07" height="10.42" fill="#4080F0"/>
<rect x="321.28" y="348.32" width="10.07" height="10.42" fill="#4080F0"/>
<rect x="341.42" y="348.32" width="10.07" height="10.42" fill="#4080F0"/>
<rect x="351.49" y="348.32" width="10.07" height="10.42" fill="#4080F0"/>
<rect x="361.56" y="348.32" width="10.07" height="10.42" fill="#4080F0"/>
<rect x="371.63" y="348.32" width="10.07" height="10.42" fill="#4080F0"/>
<rect x="381.70" y="348.32" width="10.07" height="10.42" fill="#4080F0"/>
<rect x="391.77" y="348.32" width="10.07" height="10.42" fill="#4080F0"/>
<rect x="401.84" y="348.32" width="10.07" height="10.42" fill="#4080F0"/>
<rect x="411.91" y="348.32" width="10.07" height="10.42" fill="#4080F0"/>
<rect x="421.98" y="348.32" width="10.07" height="10.42" fill="#4080F0"/>
<rect x="432.05" y="348.32" width="10.07" height="10.42" fill="#4080F0"/>
<rect x="170.23" y="358.74" width="10.07" height="10.42" fill="#4080F0"/>
<rect x="180.30" y="358.74" width="10.07" height="10.42" fill="#4080F0"/>
<rect x="190.37" y="358.74" width="10.07" height="10.42" fill="#4080F0"/>
<rect x="200.44" y="358.74" width="10.07" height="10.42" fill="#4080F0"/>
<rect x="210.51" y="358.74" width="10.07" height="10.42" fill="#4080F0"/>
<rect x="220.58" y="358.74" width="10.07" height="10.42" fill="#4080F0"/>
<rect x="230.65" y="358.74" width="10.07" height="10.42" fill="#4080F0"/>
<rect x="240.72" y="358.74" width="10.07" height="10.42" fill="#4080F0"/>
<rect x="250.79" y="358.74" width="10.07" height="10.42" fill="#4080F0"/>
<rect x="260.86" y="358.74" width="10.07" height="10.42" fill="#4080F0"/>
<rect x="270.93" y="358.74" width="10.07" height="10.42" fill="#4080F0"/>
<rect x="281.00" y="358.74" width="10.07" height="10.42" fill="#4080F0"/>
<rect x="291.07" y="358.74" width="10.07" height="10.42" fill="#4080F0"/>
<rect x="321.28" y="358.74" width="10.07" height="10.42" fill="#4080F0"/>
<rect x="331.35" y="358.74" width="10.07" height="10.42" fill="#4080F0"/>
<rect x="341.42" y="358.74" width="10.07" height="10.42" fill="#4080F0"/>
<rect x="351.49" y="358.74" width="10.07" height="10.42" fill="#4080F0"/>
<rect x="361.56" y="358.74" width="10.07" height="10.42" fill="#4080F0"/>
<rect x="371.63" y="358.74" width="10.07" height="10.42" fill="#4080F0"/>
<rect x="381.70" y="358.74" width="10.07" height="10.42" fill="#4080F0"/>
<rect x="391.77" y="358.74" width="10.07" height="10.42" fill="#4080F0"/>
<rect x="401.84" y="358.74" width="10.07" height="10.42" fill="#4080F0"/>
<rect x="411.91" y="358.74" width="10.07" height="10.42" fill="#4080F0"/>
<rect x="421.98" y="358.74" width="10.07" height="10.42" fill="#4080F0"/>
<rect x="432.05" y="358.74" width="10.07" height="10.42" fill="#4080F0"/>
<rect x="442.12" y="358.74" width="10.07" height="10.42" fill="#4080F0"/>
<rect x="452.19" y="358.74" width="10.07" height="10.42" fill="#4080F0"/>
<rect x="170.23" y="369.16" width="10.07" height="10.42" fill="#FBF30E"/>
<rect x="180.30" y="369.16" width="10.07" height="10.42" fill="#4080F0"/>
<rect x="190.37" y="369.16" width="10.07" height="10.42" fill="#4080F0"/>
<rect x="200.44" y="369.16" width="10.07" height="10.42" fill="#FBF30E"/>
<rect x="210.51" y="369.16" width="10.07" height="10.42" fill="#4080F0"/>
<rect x="220.58" y="369.16" width="10.07" height="10.42" fill="#4080F0"/>
<rect x="230.65" y="369.16" width="10.07" height="10.42" fill="#4080F0"/>
<rect x="240.72" y="369.16" width="10.07" height="10.42" fill="#4080F0"/>
<rect x="250.79" y="369.16" width="10.07" height="10.42" fill="#4080F0"/>
<rect x="260.86" y="369.16" width="10.07" height="10.42" fill="#4080F0"/>
<rect x="270.93" y="369.16" width="10.07" height="10.42" fill="#4080F0"/>
<rect x="281.00" y="369.16" width="10.07" height="10.42" fill="#4080F0"/>
<rect x="321.28" y="369.16" width="10.07" height="10.42" fill="#4080F0"/>
<rect x="331.35" y="369.16" width="10.07" height="10.42" fill="#4080F0"/>
<rect x="341.42" y="369.16" width="10.07" height="10.42" fill="#4080F0"/>
<rect x="351.49" y="369.16" width="10.07" height="10.42" fill="#4080F0"/>
<rect x="361.56" y="369.16" width="10.07" height="10.42" fill="#4080F0"/>
<rect x="371.63" y="369.16" width="10.07" height="10.42" fill="#4080F0"/>
<rect x="381.70" y="369.16" width="10.07" height="10.42" fill="#4080F0"/>
<rect x="391.77" y="369.16" width="10.07" height="10.42" fill="#4080F0"/>
<rect x="401.84" y="369.16" width="10.07" height="10.42" fill="#4080F0"/>
<rect x="411.91" y="369.16" width="10.07" height="10.42" fill="#4080F0"/>
<rect x="421.98" y="369.16" width="10.07" height="10.42" fill="#4080F0"/>
<rect x="432.05" y="369.16" width="10.07" height="10.42" fill="#4080F0"/>
<rect x="442.12" y="369.16" width="10.07" height="10.42" fill="#4080F0"/>
<rect x="452.19" y="369.16" width="10.07" height="10.42" fill="#4080F0"/>
<rect x="180.30" y="379.58" width="10.07" height="10.42" fill="#FBF30E"/>
<rect x="190.37" y="379.58" width="10.07" height="10.42" fill="#FBF30E"/>
<rect x="200.44" y="379.58" width="10.07" height="10.42" fill="#4080F0"/>
<rect x="210.51" y="379.58" width="10.07" height="10.42" fill="#4080F0"/>
<rect x="250.79" y="379.58" width="10.07" height="10.42" fill="#4080F0"/>
<rect x="260.86" y="379.58" width="10.07" height="10.42" fill="#4080F0"/>
<rect x="321.28" y="379.58" width="10.07" height="10.42" fill="#4080F0"/>
<rect x="331.35" y="379.58" width="10.07" height="10.42" fill="#4080F0"/>
<rect x="341.42" y="379.58" width="10.07" height="10.42" fill="#4080F0"/>
<rect x="351.49" y="379.58" width="10.07" height="10.42" fill="#4080F0"/>
<rect x="361.56" y="379.58" width="10.07" height="10.42" fill="#4080F0"/>
<rect x="371.63" y="379.58" width="10.07" height="10.42" fill="#4080F0"/>
<rect x="381.70" y="379.58" width="10.07" height="10.42" fill="#4080F0"/>
<rect x="391.77" y="379.58" width="10.07" height="10.42" fill="#4080F0"/>
<rect x="401.84" y="379.58" width="10.07" height="10.42" fill="#4080F0"/>
<rect x="411.91" y="379.58" width="10.07" height="10.42" fill="#4080F0"/>
<rect x="421.98" y="379.58" width="10.07" height="10.42" fill="#4080F0"/>
<rect x="432.05" y="379.58" width="10.07" height="10.42" fill="#4080F0"/>
<rect x="442.12" y="379.58" width="10.07" height="10.42" fill="#4080F0"/>
<rect x="140.02" y="390.00" width="10.07" height="10.42" fill="#FBF30E"/>
<rect x="150.09" y="390.00" width="10.07" height="10.42" fill="#FBF30E"/>
<rect x="160.16" y="390.00" width="10.07" height="10.42" fill="#FBF30E"/>
<rect x="170.23" y="390.00" width="10.07" height="10.42" fill="#FBF30E"/>
<rect x="180.30" y="390.00" width="10.07" height="10.42" fill="#FBF30E"/>
<rect x="190.37" y="390.00" width="10.07" height="10.42" fill="#FBF30E"/>
<rect x="270.93" y="390.00" width="10.07" height="10.42" fill="#4080F0"/>
<rect x="321.28" y="390.00" width="10.07" height="10.42" fill="#4080F0"/>
<rect x="331.35" y="390.00" width="10.07" height="10.42" fill="#4080F0"/>
<rect x="341.42" y="390.00" width="10.07" height="10.42" fill="#4080F0"/>
<rect x="351.49" y="390.00" width="10.07" height="10.42" fill="#4080F0"/>
<rect x="361.56" y="390.00" width="10.07" height="10.42" fill="#4080F0"/>
<rect x="371.63" y="390.00" width="10.07" height="10.42" fill="#4080F0"/>
<rect x="381.70" y="390.00" width="10.07" height="10.42" fill="#4080F0"/>
<rect x="391.77" y="390.00" width="10.07" height="10.42" fill="#4080F0"/>
<rect x="401.84" y="390.00" width="10.07" height="10.42" fill="#4080F0"/>
<rect x="411.91" y="390.00" width="10.07" height="10.42" fill="#4080F0"/>
<rect x="421.98" y="390.00" width="10.07" height="10.42" fill="#4080F0"/>
<rect x="432.05" y="390.00" width="10.07" height="10.42" fill="#4080F0"/>
<rect x="150.09" y="400.41" width="10.07" height="10.42" fill="#FBF30E"/>
<rect x="160.16" y="400.41" width="10.07" height="10.42" fill="#FBF30E"/>
<rect x="170.23" y="400.41" width="10.07" height="10.42" fill="#FBF30E"/>
<rect x="180.30" y="400.41" width="10.07" height="10.42" fill="#FBF30E"/>
<rect x="190.37" y="400.41" width="10.07" height="10.42" fill="#FBF30E"/>
<rect x="321.28" y="400.41" width="10.07" height="10.42" fill="#4080F0"/>
<rect x="331.35" y="400.41" width="10.07" height="10.42" fill="#4080F0"/>
<rect x="341.42" y="400.41" width="10.07" height="10.42" fill="#4080F0"/>
<rect x="351.49" y="400.41" width="10.07" height="10.42" fill="#4080F0"/>
<rect x="361.56" y="400.41" width="10.07" height="10.42" fill="#4080F0"/>
<rect x="371.63" y="400.41" width="10.07" height="10.42" fill="#4080F0"/>
<rect x="381.70" y="400.41" width="10.07" height="10.42" fill="#4080F0"/>
<rect x="391.77" y="400.41" width="10.07" height="10.42" fill="#4080F0"/>
<rect x="401.84" y="400.41" width="10.07" height="10.42" fill="#4080F0"/>
<rect x="411.91" y="400.41" width="10.07" height="10.42" fill="#4080F0"/>
<rect x="421.98" y="400.41" width="10.07" height="10.42" fill="#4080F0"/>
<rect x="150.09" y="410.83" width="10.07" height="10.42" fill="#FBF30E"/>
<rect x="160.16" y="410.83" width="10.07" height="10.42" fill="#FBF30E"/>
<rect x="170.23" y="410.83" width="10.07" height="10.42" fill="#FBF30E"/>
<rect x="180.30" y="410.83" width="10.07" height="10.42" fill="#FBF30E"/>
<rect x="321.28" y="410.83" width="10.07" height="10.42" fill="#4080F0"/>
<rect x="331.35" y="410.83" width="10.07" height="10.42" fill="#4080F0"/>
<rect x="341.42" y="410.83" width="10.07" height="10.42" fill="#4080F0"/>
<rect x="351.49" y="410.83" width="10.07" height="10.42" fill="#4080F0"/>
<rect x="361.56" y="410.83" width="10.07" height="10.42" fill="#4080F0"/>
<rect x="371.63" y="410.83" width="10.07" height="10.42" fill="#4080F0"/>
<rect x="381.70" y="410.83" width="10.07" height="10.42" fill="#4080F0"/>
<rect x="391.77" y="410.83" width="10.07" height="10.42" fill="#4080F0"/>
<rect x="401.84" y="410.83" width="10.07" height="10.42" fill="#4080F0"/>
<rect x="411.91" y="410.83" width="10.07" height="10.42" fill="#4080F0"/>
<rect x="421.98" y="410.83" width="10.07" height="10.42" fill="#4080F0"/>
<rect x="150.09" y="421.25" width="10.07" height="10.42" fill="#FBF30E"/>
<rect x="160.16" y="421.25" width="10.07" height="10.42" fill="#FBF30E"/>
<rect x="170.23" y="421.25" width="10.07" height="10.42" fill="#FBF30E"/>
<rect x="180.30" y="421.25" width="10.07" height="10.42" fill="#FBF30E"/>
<rect x="321.28" y="421.25" width="10.07" height="10.42" fill="#4080F0"/>
<rect x="331.35" y="421.25" width="10.07" height="10.42" fill="#4080F0"/>
<rect x="341.42" y="421.25" width="10.07" height="10.42" fill="#4080F0"/>
<rect x="351.49" y="421.25" width="10.07" height="10.42" fill="#FBF30E"/>
<rect x="361.56" y="421.25" width="10.07" height="10.42" fill="#4080F0"/>
<rect x="371.63" y="421.25" width="10.07" height="10.42" fill="#4080F0"/>
<rect x="381.70" y="421.25" width="10.07" height="10.42" fill="#4080F0"/>
<rect x="391.77" y="421.25" width="10.07" height="10.42" fill="#4080F0"/>
<rect x="401.84" y="421.25" width="10.07" height="10.42" fill="#4080F0"/>
<rect x="411.91" y="421.25" width="10.07" height="10.42" fill="#4080F0"/>
<rect x="150.09" y="431.67" width="10.07" height="10.42" fill="#FBF30E"/>
<rect x="321.28" y="431.67" width="10.07" height="10.42" fill="#4080F0"/>
<rect x="331.35" y="431.67" width="10.07" height="10.42" fill="#FBF30E"/>
<rect x="341.42" y="431.67" width="10.07" height="10.42" fill="#4080F0"/>
<rect x="351.49" y="431.67" width="10.07" height="10.42" fill="#4080F0"/>
<rect x="361.56" y="431.67" width="10.07" height="10.42" fill="#4080F0"/>
<rect x="371.63" y="431.67" width="10.07" height="10.42" fill="#4080F0"/>
<rect x="381.70" y="431.67" width="10.07" height="10.42" fill="#4080F0"/>
<rect x="391.77" y="431.67" width="10.07" height="10.42" fill="#4080F0"/>
<rect x="401.84" y="431.67" width="10.07" height="10.42" fill="#4080F0"/>
<rect x="321.28" y="442.08" width="10.07" height="10.42" fill="#4080F0"/>
<rect x="331.35" y="442.08" width="10.07" height="10.42" fill="#4080F0"/>
<rect x="341.42" y="442.08" width="10.07" height="10.42" fill="#4080F0"/>
<rect x="351.49" y="442.08" width="10.07" height="10.42" fill="#4080F0"/>
<rect x="361.56" y="442.08" width="10.07" height="10.42" fill="#4080F0"/>
<rect x="371.63" y="442.08" width="10.07" height="10.42" fill="#4080F0"/>
<rect x="381.70" y="442.08" width="10.07" height="10.42" fill="#4080F0"/>
<rect x="391.77" y="442.08" width="10.07" height="10.42" fill="#4080F0"/>
<rect x="321.28" y="452.50" width="10.07" height="10.42" fill="#4080F0"/>
<rect x="331.35" y="452.50" width="10.07" height="10.42" fill="#4080F0"/>
<rect x="341.42" y="452.50" width="10.07" height="10.42" fill="#4080F0"/>
<rect x="351.49" y="452.50" width="10.07" height="10.42" fill="#4080F0"/>
<rect x="361.56" y="452.50" width="10.07" height="10.42" fill="#4080F0"/>
<rect x="371.63" y="452.50" width="10.07" height="10.42" fill="#4080F0"/>
<rect x="381.70" y="452.50" width="10.07" height="10.42" fill="#4080F0"/>
<rect x="331.35" y="462.92" width="10.07" height="10.42" fill="#FBF30E"/>
<rect x="341.42" y="462.92" width="10.07" height="10.42" fill="#FBF30E"/>
<rect x="361.56" y="462.92" width="10.07" height="10.42" fill="#4080F0"/>
<rect x="371.63" y="462.92" width="10.07" height="10.42" fill="#4080F0"/>
<rect x="381.70" y="462.92" width="10.07" height="10.42" fill="#FBF30E"/>
<rect x="371.63" y="473.34" width="10.07" height="10.42" fill="#4080F0"/>
<rect x="381.70" y="473.34" width="10.07" height="10.42" fill="#4080F0"/>
<rect x="411.91" y="473.34" width="10.07" height="10.42" fill="#FBF30E"/>
</g>
<path d="M260.86 35.80v10.42M250.79 46.22h10.07M270.93 35.80v10.42M260.86 46.22h10.07M270.93 46.22h10.07M250.79 46.22v10.42M240.72 56.63h10.07M260.86 46.22v10.42M250.79 56.63h10.07M270.93 46.22v10.42M260.86 56.63h10.07M270.93 56.63h10.07M250.79 56.63v10.42M240.72 67.05h10.07M260.86 56.63v10.42M250.79 67.05h10.07M270.93 56.63v10.42M260.86 67.05h10.07M270.93 67.05h10.07M240.72 67.05v10.42M230.65 77.47h10.07M250.79 67.05v10.42M240.72 77.47h10.07M260.86 67.05v10.42M250.79 77.47h10.07M270.93 67.05v10.42M260.86 77.47h10.07M281.00 67.05v10.42M270.93 77.47h10.07M281.00 77.47h10.07M220.58 77.47v10.42M210.51 87.89h10.07M230.65 77.47v10.42M220.58 87.89h10.07M240.72 77.47v10.42M230.65 87.89h10.07M250.79 77.47v10.42M240.72 87.89h10.07M260.86 77.47v10.42M250.79 87.89h10.07M270.93 77.47v10.42M260.86 87.89h10.07M281.00 77.47v10.42M270.93 87.89h10.07M291.07 77.47v10.42M281.00 87.89h10.07M291.07 87.89h10.07M220.58 87.89v10.42M210.51 98.31h10.07M230.65 87.89v10.42M220.58 98.31h10.07M240.72 87.89v10.42M230.65 98.31h10.07M250.79 87.89v10.42M240.72 98.31h10.07M260.86 87.89v10.42M250.79 98.31h10.07M270.93 87.89v10.42M260.86 98.31h10.07M281.00 87.89v10.42M270.93 98.31h10.07M291.07 87.89v10.42M281.00 98.31h10.07M301.14 87.89v10.42M291.07 98.31h10.07M311.21 87.89v10.42M301.14 98.31h10.07M311.21 98.31h10.07M220.58 98.31v10.42M210.51 108.72h10.07M230.65 98.31v10.42M220.58 108.72h10.07M240.72 98.31v10.42M230.65 108.72h10.07M250.79 98.31v10.42M240.72 108.72h10.07M260.86 98.31v10.42M250.79 108.72h10.07M270.93 98.31v10.42M260.86 108.72h10.07M281.00 98.31v10.42M270.93 108.72h10.07M291.07 98.31v10.42M281.00 108.72h10.07M301.14 98.31v10.42M291.07 108.72h10.07M311.21 98.31v10.42M301.14 108.72h10.07M311.21 108.72h10.07M200.44 108.72v10.42M190.37 119.14h10.07M210.51 108.72v10.42M200.44 119.14h10.07M220.58 108.72v10.42M210.51 119.14h10.07M230.65 108.72v10.42M220.58 119.14h10.07M240.72 108.72v10.42M230.65 119.14h10.07M250.79 108.72v10.42M240.72 119.14h10.07M260.86 108.72v10.42M250.79 119.14h10.07M270.93 108.72v10.42M260.86 119.14h10.07M281.00 108.72v10.42M270.93 119.14h10.07M291.07 108.72v10.42M281.00 119.14h10.07M301.14 108.72v10.42M291.07 119.14h10.07M311.21 108.72v10.42M301.14 119.14h10.07M311.21 119.14h10.07M190.37 119.14v10.42M180.30 129.56h10.07M200.44 119.14v10.42M190.37 129.56h10.07M210.51 119.14v10.42M200.44 129.56h10.07M220.58 119.14v10.42M210.51 129.56h10.07M230.65 119.14v10.42M220.58 129.56h10.07M240.72 119.14v10.42M230.65 129.56h10.07M250.79 119.14v10.42M240.72 129.56h10.07M260.86 119.14v10.42M250.79 129.56h10.07M270.93 119.14v10.42M260.86 129.56h10.07M281.00 119.14v10.42M270.93 129.56h10.07M291.07 119.14v10.42M281.00 129.56h10.07M301.14 119.14v10.42M291.07 129.56h10.07M311.21 119.14v10.42M301.14 129.56h10.07M321.28 119.14v10.42M311.21 129.56h10.07M331.35 119.14v10.42M321.28 129.56h10.07M331.35 129.56h10.07M190.37 129.56v10.42M180.30 139.97h10.07M200.44 129.56v10.42M190.37 139.97h10.07M210.51 129.56v10.42M200.44 139.97h10.07M220.58 129.56v10.42M210.51 139.97h10.07M230.65 129.56v10.42M220.58 139.97h10.07M240.72 129.56v10.42M230.65 139.97h10.07M250.79 129.56v10.42M240.72 139.97h10.07M260.86 129.56v10.42M250.79 139.97h10.07M270.93 129.56v10.42M260.86 139.97h10.07M281.00 129.56v10.42M270.93 139.97h10.07M291.07 129.56v10.42M281.00 139.97h10.07M301.14 129.56v10.42M291.07 139.97h10.07M311.21 129.56v10.42M301.14 139.97h10.07M321.28 129.56v10.42M311.21 139.97h10.07M331.35 129.56v10.42M321.28 139.97h10.07M331.35 139.97h10.07M180.30 139.97v10.42M170.23 150.39h10.07M190.37 139.97v10.42M180.30 150.39h10.07M200.44 139.97v10.42M190.37 150.39h10.07M210.51 139.97v10.42M200.44 150.39h10.07M220.58 139.97v10.42M210.51 150.39h10.07M230.65 139.97v10.42M220.58 150.39h10.07M240.72 139.97v10.42M230.65 150.39h10.07M250.79 139.97v10.42M240.72 150.39h10.07M260.86 139.97v10.42M250.79 150.39h10.07M270.93 139.97v10.42M260.86 150.39h10.07M281.00 139.97v10.42M270.93 150.39h10.07M291.07 139.97v10.42M281.00 150.39h10.07M301.14 139.97v10.42M291.07 150.39h10.07M311.21 139.97v10.42M301.14 150.39h10.07M321.28 139.97v10.42M311.21 150.39h10.07M331.35 139.97v10.42M321.28 150.39h10.07M341.42 139.97v10.42M331.35 150.39h10.07M351.49 139.97v10.42M341.42 150.39h10.07M361.56 139.97v10.42M351.49 150.39h10.07M361.56 150.39h10.07M170.23 150.39v10.42M160.16 160.81h10.07M180.30 150.39v10.42M170.23 160.81h10.07M190.37 150.39v10.42M180.30 160.81h10.07M200.44 150.39v10.42M190.37 160.81h10.07M210.51 150.39v10.42M200.44 160.81h10.07M220.58 150.39v10.42M210.51 160.81h10.07M230.65 150.39v10.42M220.58 160.81h10.07M240.72 150.39v10.42M230.65 160.81h10.07M250.79 150.39v10.42M240.72 160.81h10.07M260.86 150.39v10.42M250.79 160.81h10.07M270.93 150.39v10.42M260.86 160.81h10.07M281.00 150.39v10.42M270.93 160.81h10.07M291.07 150.39v10.42M281.00 160.81h10.07M301.14 150.39v10.42M291.07 160.81h10.07M311.21 150.39v10.42M301.14 160.81h10.07M321.28 150.39v10.42M311.21 160.81h10.07M331.35 150.39v10.42M321.28 160.81h10.07M341.42 150.39v10.42M331.35 160.81h10.07M351.49 150.39v10.42M341.42 160.81h10.07M361.56 150.39v10.42M351.49 160.81h10.07M170.23 160.81v10.42M180.30 160.81v10.42M170.23 171.23h10.07M190.37 160.81v10.42M180.30 171.23h10.07M200.44 160.81v10.42M190.37 171.23h10.07M210.51 160.81v10.42M200.44 171.23h10.07M220.58 160.81v10.42M210.51 171.23h10.07M230.65 160.81v10.42M220.58 171.23h10.07M240.72 160.81v10.42M230.65 171.23h10.07M250.79 160.81v10.42M240.72 171.23h10.07M260.86 160.81v10.42M250.79 171.23h10.07M270.93 160.81v10.42M260.86 171.23h10.07M281.00 160.81v10.42M270.93 171.23h10.07M291.07 160.81v10.42M281.00 171.23h10.07M301.14 160.81v10.42M291.07 171.23h10.07M311.21 160.81v10.42M301.14 171.23h10.07M321.28 160.81v10.42M311.21 171.23h10.07M331.35 160.81v10.42M321.28 171.23h10.07M341.42 160.81v10.42M331.35 171.23h10.07M351.49 160.81v10.42M341.42 171.23h10.07M180.30 171.23v10.42M170.23 181.65h10.07M190.37 171.23v10.42M180.30 181.65h10.07M200.44 171.23v10.42M190.37 181.65h10.07M210.51 171.23v10.42M200.44 181.65h10.07M220.58 171.23v10.42M210.51 181.65h10.07M230.65 171.23v10.42M220.58 181.65h10.07M240.72 171.23v10.42M230.65 181.65h10.07M250.79 171.23v10.42M240.72 181.65h10.07M260.86 171.23v10.42M250.79 181.65h10.07M270.93 171.23v10.42M260.86 181.65h10.07M281.00 171.23v10.42M270.93 181.65h10.07M291.07 171.23v10.42M281.00 181.65h10.07M301.14 171.23v10.42M291.07 181.65h10.07M311.21 171.23v10.42M301.14 181.65h10.07M321.28 171.23v10.42M311.21 181.65h10.07M331.35 171.23v10.42M321.28 181.65h10.07M341.42 171.23v10.42M331.35 181.65h10.07M341.42 181.65h10.07M180.30 181.65v10.42M170.23 192.06h10.07M190.37 181.65v10.42M180.30 192.06h10.07M200.44 181.65v10.42M190.37 192.06h10.07M210.51 181.65v10.42M200.44 192.06h10.07M220.58 181.65v10.42M210.51 192.06h10.07M230.65 181.65v10.42M220.58 192.06h10.07M240.72 181.65v10.42M230.65 192.06h10.07M250.79 181.65v10.42M240.72 192.06h10.07M260.86 181.65v10.42M250.79 192.06h10.07M270.93 181.65v10.42M260.86 192.06h10.07M281.00 181.65v10.42M270.93 192.06h10.07M291.07 181.65v10.42M281.00 192.06h10.07M301.14 181.65v10.42M291.07 192.06h10.07M311.21 181.65v10.42M301.14 192.06h10.07M321.28 181.65v10.42M311.21 192.06h10.07M331.35 181.65v10.42M321.28 192.06h10.07M341.42 181.65v10.42M331.35 192.06h10.07M351.49 181.65v10.42M341.42 192.06h10.07M361.56 181.65v10.42M351.49 192.06h10.07M361.56 192.06h10.07M180.30 192.06v10.42M170.23 202.48h10.07M190.37 192.06v10.42M180.30 202.48h10.07M200.44 192.06v10.42M190.37 202.48h10.07M210.51 192.06v10.42M200.44 202.48h10.07M220.58 192.06v10.42M210.51 202.48h10.07M230.65 192.06v10.42M220.58 202.48h10.07M240.72 192.06v10.42M230.65 202.48h10.07M250.79 192.06v10.42M240.72 202.48h10.07M260.86 192.06v10.42M250.79 202.48h10.07M270.93 192.06v10.42M260.86 202.48h10.07M281.00 192.06v10.42M270.93 202.48h10.07M291.07 192.06v10.42M281.00 202.48h10.07M301.14 192.06v10.42M291.07 202.48h10.07M311.21 192.06v10.42M301.14 202.48h10.07M321.28 192.06v10.42M311.21 202.48h10.07M331.35 192.06v10.42M321.28 202.48h10.07M341.42 192.06v10.42M331.35 202.48h10.07M351.49 192.06v10.42M341.42 202.48h10.07M361.56 192.06v10.42M351.49 202.48h10.07M361.56 202.48h10.07M381.70 202.48h10.07M180.30 202.48v10.42M170.23 212.90h10.07M190.37 202.48v10.42M180.30 212.90h10.07M200.44 202.48v10.42M190.37 212.90h10.07M210.51 202.48v10.42M200.44 212.90h10.07M220.58 202.48v10.42M210.51 212.90h10.07M230.65 202.48v10.42M220.58 212.90h10.07M240.72 202.48v10.42M230.65 212.90h10.07M250.79 202.48v10.42M240.72 212.90h10.07M260.86 202.48v10.42M250.79 212.90h10.07M270.93 202.48v10.42M260.86 212.90h10.07M281.00 202.48v10.42M270.93 212.90h10.07M291.07 202.48v10.42M281.00 212.90h10.07M301.14 202.48v10.42M291.07 212.90h10.07M311.21 202.48v10.42M301.14 212.90h10.07M321.28 202.48v10.42M311.21 212.90h10.07M331.35 202.48v10.42M321.28 212.90h10.07M341.42 202.48v10.42M331.35 212.90h10.07M351.49 202.48v10.42M341.42 212.90h10.07M361.56 202.48v10.42M351.49 212.90h10.07M371.63 202.48v10.42M361.56 212.90h10.07M381.70 202.48v10.42M371.63 212.90h10.07M381.70 212.90h10.07M180.30 212.90v10.42M170.23 223.31h10.07M190.37 212.90v10.42M180.30 223.31h10.07M200.44 212.90v10.42M190.37 223.31h10.07M210.51 212.90v10.42M200.44 223.31h10.07M220.58 212.90v10.42M210.51 223.31h10.07M230.65 212.90v10.42M220.58 223.31h10.07M240.72 212.90v10.42M230.65 223.31h10.07M250.79 212.90v10.42M240.72 223.31h10.07M260.86 212.90v10.42M250.79 223.31h10.07M270.93 212.90v10.42M260.86 223.31h10.07M281.00 212.90v10.42M270.93 223.31h10.07M291.07 212.90v10.42M281.00 223.31h10.07M301.14 212.90v10.42M291.07 223.31h10.07M311.21 212.90v10.42M301.14 223.31h10.07M321.28 212.90v10.42M311.21 223.31h10.07M331.35 212.90v10.42M321.28 223.31h10.07M341.42 212.90v10.42M331.35 223.31h10.07M351.49 212.90v10.42M341.42 223.31h10.07M361.56 212.90v10.42M351.49 223.31h10.07M371.63 212.90v10.42M361.56 223.31h10.07M381.70 212.90v10.42M371.63 223.31h10.07M381.70 223.31h10.07M170.23 223.31v10.42M160.16 233.73h10.07M180.30 223.31v10.42M170.23 233.73h10.07M190.37 223.31v10.42M180.30 233.73h10.07M200.44 223.31v10.42M190.37 233.73h10.07M210.51 223.31v10.42M200.44 233.73h10.07M220.58 223.31v10.42M210.51 233.73h10.07M230.65 223.31v10.42M220.58 233.73h10.07M240.72 223.31v10.42M230.65 233.73h10.07M250.79 223.31v10.42M240.72 233.73h10.07M260.86 223.31v10.42M250.79 233.73h10.07M270.93 223.31v10.42M260.86 233.73h10.07M281.00 223.31v10.42M270.93 233.73h10.07M291.07 223.31v10.42M281.00 233.73h10.07M301.14 223.31v10.42M291.07 233.73h10.07M311.21 223.31v10.42M301.14 233.73h10.07M321.28 223.31v10.42M311.21 233.73h10.07M331.35 223.31v10.42M321.28 233.73h10.07M341.42 223.31v10.42M331.35 233.73h10.07M351.49 223.31v10.42M341.42 233.73h10.07M361.56 223.31v10.42M351.49 233.73h10.07M371.63 223.31v10.42M361.56 233.73h10.07M381.70 223.31v10.42M371.63 233.73h10.07M381.70 233.73h10.07M160.16 233.73v10.42M150.09 244.15h10.07M170.23 233.73v10.42M160.16 244.15h10.07M180.30 233.73v10.42M170.23 244.15h10.07M190.37 233.73v10.42M180.30 244.15h10.07M200.44 233.73v10.42M190.37 244.15h10.07M210.51 233.73v10.42M200.44 244.15h10.07M220.58 233.73v10.42M210.51 244.15h10.07M230.65 233.73v10.42M220.58 244.15h10.07M240.72 233.73v10.42M230.65 244.15h10.07M250.79 233.73v10.42M240.72 244.15h10.07M260.86 233.73v10.42M250.79 244.15h10.07M270.93 233.73v10.42M260.86 244.15h10.07M281.00 233.73v10.42M270.93 244.15h10.07M291.07 233.73v10.42M281.00 244.15h10.07M301.14 233.73v10.42M291.07 244.15h10.07M311.21 233.73v10.42M301.14 244.15h10.07M321.28 233.73v10.42M311.21 244.15h10.07M331.35 233.73v10.42M321.28 244.15h10.07M341.42 233.73v10.42M331.35 244.15h10.07M351.49 233.73v10.42M341.42 244.15h10.07M361.56 233.73v10.42M351.49 244.15h10.07M371.63 233.73v10.42M361.56 244.15h10.07M381.70 233.73v10.42M371.63 244.15h10.07M381.70 244.15h10.07M140.02 244.15v10.42M150.09 244.15v10.42M140.02 254.57h10.07M160.16 244.15v10.42M150.09 254.57h10.07M170.23 244.15v10.42M160.16 254.57h10.07M180.30 244.15v10.42M170.23 254.57h10.07M190.37 244.15v10.42M180.30 254.57h10.07M200.44 244.15v10.42M190.37 254.57h10.07M210.51 244.15v10.42M200.44 254.57h10.07M220.58 244.15v10.42M210.51 254.57h10.07M230.65 244.15v10.42M220.58 254.57h10.07M240.72 244.15v10.42M230.65 254.57h10.07M250.79 244.15v10.42M240.72 254.57h10.07M260.86 244.15v10.42M250.79 254.57h10.07M270.93 244.15v10.42M260.86 254.57h10.07M281.00 244.15v10.42M270.93 254.57h10.07M291.07 244.15v10.42M281.00 254.57h10.07M301.14 244.15v10.42M291.07 254.57h10.07M311.21 244.15v10.42M301.14 254.57h10.07M321.28 244.15v10.42M311.21 254.57h10.07M331.35 244.15v10.42M321.28 254.57h10.07M341.42 244.15v10.42M331.35 254.57h10.07M351.49 244.15v10.42M341.42 254.57h10.07M361.56 244.15v10.42M351.49 254.57h10.07M371.63 244.15v10.42M361.56 254.57h10.07M381.70 244.15v10.42M150.09 254.57v10.42M140.02 264.99h10.07M160.16 254.57v10.42M150.09 264.99h10.07M170.23 254.57v10.42M160.16 264.99h10.07M180.30 254.57v10.42M170.23 264.99h10.07M190.37 254.57v10.42M180.30 264.99h10.07M200.44 254.57v10.42M190.37 264.99h10.07M210.51 254.57v10.42M200.44 264.99h10.07M220.58 254.57v10.42M210.51 264.99h10.07M230.65 254.57v10.42M220.58 264.99h10.07M240.72 254.57v10.42M230.65 264.99h10.07M250.79 254.57v10.42M240.72 264.99h10.07M260.86 254.57v10.42M250.79 264.99h10.07M270.93 254.57v10.42M260.86 264.99h10.07M281.00 254.57v10.42M270.93 264.99h10.07M291.07 254.57v10.42M281.00 264.99h10.07M301.14 254.57v10.42M291.07 264.99h10.07M311.21 254.57v10.42M301.14 264.99h10.07M321.28 254.57v10.42M311.21 264.99h10.07M331.35 254.57v10.42M321.28 264.99h10.07M341.42 254.57v10.42M331.35 264.99h10.07M351.49 254.57v10.42M341.42 264.99h10.07M361.56 254.57v10.42M351.49 264.99h10.07M361.56 264.99h10.07M150.09 264.99v10.42M140.02 275.40h10.07M160.16 264.99v10.42M150.09 275.40h10.07M170.23 264.99v10.42M160.16 275.40h10.07M180.30 264.99v10.42M170.23 275.40h10.07M190.37 264.99v10.42M180.30 275.40h10.07M200.44 264.99v10.42M190.37 275.40h10.07M210.51 264.99v10.42M200.44 275.40h10.07M220.58 264.99v10.42M210.51 275.40h10.07M230.65 264.99v10.42M220.58 275.40h10.07M240.72 264.99v10.42M230.65 275.40h10.07M250.79 264.99v10.42M240.72 275.40h10.07M260.86 264.99v10.42M250.79 275.40h10.07M270.93 264.99v10.42M260.86 275.40h10.07M281.00 264.99v10.42M270.93 275.40h10.07M291.07 264.99v10.42M281.00 275.40h10.07M301.14 264.99v10.42M291.07 275.40h10.07M311.21 264.99v10.42M301.14 275.40h10.07M321.28 264.99v10.42M311.21 275.40h10.07M331.35 264.99v10.42M321.28 275.40h10.07M341.42 264.99v10.42M331.35 275.40h10.07M351.49 264.99v10.42M341.42 275.40h10.07M361.56 264.99v10.42M351.49 275.40h10.07M361.56 275.40h10.07M140.02 275.40v10.42M150.09 275.40v10.42M160.16 275.40v10.42M150.09 285.82h10.07M170.23 275.40v10.42M160.16 285.82h10.07M180.30 275.40v10.42M170.23 285.82h10.07M190.37 275.40v10.42M180.30 285.82h10.07M200.44 275.40v10.42M190.37 285.82h10.07M210.51 275.40v10.42M200.44 285.82h10.07M220.58 275.40v10.42M210.51 285.82h10.07M230.65 275.40v10.42M220.58 285.82h10.07M240.72 275.40v10.42M230.65 285.82h10.07M250.79 275.40v10.42M240.72 285.82h10.07M260.86 275.40v10.42M250.79 285.82h10.07M270.93 275.40v10.42M260.86 285.82h10.07M281.00 275.40v10.42M270.93 285.82h10.07M291.07 275.40v10.42M281.00 285.82h10.07M301.14 275.40v10.42M291.07 285.82h10.07M311.21 275.40v10.42M301.14 285.82h10.07M321.28 275.40v10.42M311.21 285.82h10.07M331.35 275.40v10.42M321.28 285.82h10.07M341.42 275.40v10.42M331.35 285.82h10.07M351.49 275.40v10.42M341.42 285.82h10.07M361.56 275.40v10.42M351.49 285.82h10.07M361.56 285.82h10.07M160.16 285.82v10.42M150.09 296.24h10.07M170.23 285.82v10.42M160.16 296.24h10.07M180.30 285.82v10.42M170.23 296.24h10.07M190.37 285.82v10.42M180.30 296.24h10.07M200.44 285.82v10.42M190.37 296.24h10.07M210.51 285.82v10.42M200.44 296.24h10.07M220.58 285.82v10.42M210.51 296.24h10.07M230.65 285.82v10.42M220.58 296.24h10.07M240.72 285.82v10.42M230.65 296.24h10.07M250.79 285.82v10.42M240.72 296.24h10.07M260.86 285.82v10.42M250.79 296.24h10.07M270.93 285.82v10.42M260.86 296.24h10.07M281.00 285.82v10.42M270.93 296.24h10.07M291.07 285.82v10.42M281.00 296.24h10.07M301.14 285.82v10.42M291.07 296.24h10.07M311.21 285.82v10.42M301.14 296.24h10.07M321.28 285.82v10.42M311.21 296.24h10.07M331.35 285.82v10.42M321.28 296.24h10.07M341.42 285.82v10.42M331.35 296.24h10.07M351.49 285.82v10.42M341.42 296.24h10.07M361.56 285.82v10.42M351.49 296.24h10.07M160.16 296.24v10.42M150.09 306.66h10.07M170.23 296.24v10.42M160.16 306.66h10.07M180.30 296.24v10.42M170.23 306.66h10.07M190.37 296.24v10.42M180.30 306.66h10.07M200.44 296.24v10.42M190.37 306.66h10.07M210.51 296.24v10.42M200.44 306.66h10.07M220.58 296.24v10.42M210.51 306.66h10.07M230.65 296.24v10.42M220.58 306.66h10.07M240.72 296.24v10.42M230.65 306.66h10.07M250.79 296.24v10.42M240.72 306.66h10.07M260.86 296.24v10.42M250.79 306.66h10.07M270.93 296.24v10.42M260.86 306.66h10.07M281.00 296.24v10.42M270.93 306.66h10.07M291.07 296.24v10.42M281.00 306.66h10.07M301.14 296.24v10.42M291.07 306.66h10.07M311.21 296.24v10.42M301.14 306.66h10.07M321.28 296.24v10.42M311.21 306.66h10.07M331.35 296.24v10.42M341.42 296.24v10.42M351.49 296.24v10.42M150.09 306.66v10.42M160.16 306.66v10.42M170.23 306.66v10.42M160.16 317.07h10.07M180.30 306.66v10.42M170.23 317.07h10.07M190.37 306.66v10.42M180.30 317.07h10.07M200.44 306.66v10.42M190.37 317.07h10.07M210.51 306.66v10.42M200.44 317.07h10.07M220.58 306.66v10.42M210.51 317.07h10.07M230.65 306.66v10.42M220.58 317.07h10.07M240.72 306.66v10.42M230.65 317.07h10.07M250.79 306.66v10.42M240.72 317.07h10.07M260.86 306.66v10.42M250.79 317.07h10.07M270.93 306.66v10.42M260.86 317.07h10.07M281.00 306.66v10.42M270.93 317.07h10.07M291.07 306.66v10.42M281.00 317.07h10.07M301.14 306.66v10.42M291.07 317.07h10.07M311.21 306.66v10.42M301.14 317.07h10.07M311.21 317.07h10.07M391.77 317.07h10.07M170.23 317.07v10.42M180.30 317.07v10.42M170.23 327.49h10.07M190.37 317.07v10.42M180.30 327.49h10.07M200.44 317.07v10.42M190.37 327.49h10.07M210.51 317.07v10.42M200.44 327.49h10.07M220.58 317.07v10.42M210.51 327.49h10.07M230.65 317.07v10.42M220.58 327.49h10.07M240.72 317.07v10.42M230.65 327.49h10.07M250.79 317.07v10.42M240.72 327.49h10.07M260.86 317.07v10.42M250.79 327.49h10.07M270.93 317.07v10.42M260.86 327.49h10.07M281.00 317.07v10.42M270.93 327.49h10.07M291.07 317.07v10.42M281.00 327.49h10.07M301.14 317.07v10.42M291.07 327.49h10.07M311.21 317.07v10.42M301.14 327.49h10.07M391.77 317.07v10.42M381.70 327.49h10.07M401.84 317.07v10.42M391.77 327.49h10.07M411.91 317.07v10.42M401.84 327.49h10.07M421.98 317.07v10.42M411.91 327.49h10.07M432.05 317.07v10.42M421.98 327.49h10.07M432.05 327.49h10.07M180.30 327.49v10.42M170.23 337.91h10.07M190.37 327.49v10.42M180.30 337.91h10.07M200.44 327.49v10.42M190.37 337.91h10.07M210.51 327.49v10.42M200.44 337.91h10.07M220.58 327.49v10.42M210.51 337.91h10.07M230.65 327.49v10.42M220.58 337.91h10.07M240.72 327.49v10.42M230.65 337.91h10.07M250.79 327.49v10.42M240.72 337.91h10.07M260.86 327.49v10.42M250.79 337.91h10.07M270.93 327.49v10.42M260.86 337.91h10.07M281.00 327.49v10.42M270.93 337.91h10.07M291.07 327.49v10.42M281.00 337.91h10.07M301.14 327.49v10.42M291.07 337.91h10.07M301.14 337.91h10.07M391.77 327.49v10.42M381.70 337.91h10.07M401.84 327.49v10.42M391.77 337.91h10.07M411.91 327.49v10.42M401.84 337.91h10.07M421.98 327.49v10.42M411.91 337.91h10.07M432.05 327.49v10.42M421.98 337.91h10.07M432.05 337.91h10.07M180.30 337.91v10.42M170.23 348.32h10.07M190.37 337.91v10.42M180.30 348.32h10.07M200.44 337.91v10.42M190.37 348.32h10.07M210.51 337.91v10.42M200.44 348.32h10.07M220.58 337.91v10.42M210.51 348.32h10.07M230.65 337.91v10.42M220.58 348.32h10.07M240.72 337.91v10.42M230.65 348.32h10.07M250.79 337.91v10.42M240.72 348.32h10.07M260.86 337.91v10.42M250.79 348.32h10.07M270.93 337.91v10.42M260.86 348.32h10.07M281.00 337.91v10.42M270.93 348.32h10.07M291.07 337.91v10.42M281.00 348.32h10.07M301.14 337.91v10.42M301.14 348.32h10.07M321.28 348.32h10.07M361.56 337.91v10.42M351.49 348.32h10.07M371.63 337.91v10.42M361.56 348.32h10.07M381.70 337.91v10.42M371.63 348.32h10.07M391.77 337.91v10.42M381.70 348.32h10.07M401.84 337.91v10.42M391.77 348.32h10.07M411.91 337.91v10.42M401.84 348.32h10.07M421.98 337.91v10.42M411.91 348.32h10.07M432.05 337.91v10.42M421.98 348.32h10.07M432.05 348.32h10.07M170.23 348.32v10.42M180.30 348.32v10.42M170.23 358.74h10.07M190.37 348.32v10.42M180.30 358.74h10.07M200.44 348.32v10.42M190.37 358.74h10.07M210.51 348.32v10.42M200.44 358.74h10.07M220.58 348.32v10.42M210.51 358.74h10.07M230.65 348.32v10.42M220.58 358.74h10.07M240.72 348.32v10.42M230.65 358.74h10.07M250.79 348.32v10.42M240.72 358.74h10.07M260.86 348.32v10.42M250.79 358.74h10.07M270.93 348.32v10.42M260.86 358.74h10.07M281.00 348.32v10.42M270.93 358.74h10.07M281.00 358.74h10.07M321.28 358.74h10.07M351.49 348.32v10.42M341.42 358.74h10.07M361.56 348.32v10.42M351.49 358.74h10.07M371.63 348.32v10.42M361.56 358.74h10.07M381.70 348.32v10.42M371.63 358.74h10.07M391.77 348.32v10.42M381.70 358.74h10.07M401.84 348.32v10.42M391.77 358.74h10.07M411.91 348.32v10.42M401.84 358.74h10.07M421.98 348.32v10.42M411.91 358.74h10.07M432.05 348.32v10.42M421.98 358.74h10.07M432.05 358.74h10.07M180.30 358.74v10.42M170.23 369.16h10.07M190.37 358.74v10.42M180.30 369.16h10.07M200.44 358.74v10.42M190.37 369.16h10.07M210.51 358.74v10.42M200.44 369.16h10.07M220.58 358.74v10.42M210.51 369.16h10.07M230.65 358.74v10.42M220.58 369.16h10.07M240.72 358.74v10.42M230.65 369.16h10.07M250.79 358.74v10.42M240.72 369.16h10.07M260.86 358.74v10.42M250.79 369.16h10.07M270.93 358.74v10.42M260.86 369.16h10.07M281.00 358.74v10.42M270.93 369.16h10.07M291.07 358.74v10.42M281.00 369.16h10.07M331.35 358.74v10.42M321.28 369.16h10.07M341.42 358.74v10.42M331.35 369.16h10.07M351.49 358.74v10.42M341.42 369.16h10.07M361.56 358.74v10.42M351.49 369.16h10.07M371.63 358.74v10.42M361.56 369.16h10.07M381.70 358.74v10.42M371.63 369.16h10.07M391.77 358.74v10.42M381.70 369.16h10.07M401.84 358.74v10.42M391.77 369.16h10.07M411.91 358.74v10.42M401.84 369.16h10.07M421.98 358.74v10.42M411.91 369.16h10.07M432.05 358.74v10.42M421.98 369.16h10.07M442.12 358.74v10.42M432.05 369.16h10.07M452.19 358.74v10.42M442.12 369.16h10.07M452.19 369.16h10.07M180.30 369.16v10.42M190.37 369.16v10.42M180.30 379.58h10.07M200.44 369.16v10.42M190.37 379.58h10.07M210.51 369.16v10.42M200.44 379.58h10.07M220.58 369.16v10.42M210.51 379.58h10.07M230.65 369.16v10.42M240.72 369.16v10.42M250.79 369.16v10.42M260.86 369.16v10.42M250.79 379.58h10.07M270.93 369.16v10.42M260.86 379.58h10.07M281.00 369.16v10.42M331.35 369.16v10.42M321.28 379.58h10.07M341.42 369.16v10.42M331.35 379.58h10.07M351.49 369.16v10.42M341.42 379.58h10.07M361.56 369.16v10.42M351.49 379.58h10.07M371.63 369.16v10.42M361.56 379.58h10.07M381.70 369.16v10.42M371.63 379.58h10.07M391.77 369.16v10.42M381.70 379.58h10.07M401.84 369.16v10.42M391.77 379.58h10.07M411.91 369.16v10.42M401.84 379.58h10.07M421.98 369.16v10.42M411.91 379.58h10.07M432.05 369.16v10.42M421.98 379.58h10.07M442.12 369.16v10.42M432.05 379.58h10.07M452.19 369.16v10.42M442.12 379.58h10.07M190.37 379.58v10.42M180.30 390.00h10.07M200.44 379.58v10.42M190.37 390.00h10.07M210.51 379.58v10.42M260.86 379.58v10.42M331.35 379.58v10.42M321.28 390.00h10.07M341.42 379.58v10.42M331.35 390.00h10.07M351.49 379.58v10.42M341.42 390.00h10.07M361.56 379.58v10.42M351.49 390.00h10.07M371.63 379.58v10.42M361.56 390.00h10.07M381.70 379.58v10.42M371.63 390.00h10.07M391.77 379.58v10.42M381.70 390.00h10.07M401.84 379.58v10.42M391.77 390.00h10.07M411.91 379.58v10.42M401.84 390.00h10.07M421.98 379.58v10.42M411.91 390.00h10.07M432.05 379.58v10.42M421.98 390.00h10.07M442.12 379.58v10.42M432.05 390.00h10.07M150.09 390.00v10.42M160.16 390.00v10.42M150.09 400.41h10.07M170.23 390.00v10.42M160.16 400.41h10.07M180.30 390.00v10.42M170.23 400.41h10.07M190.37 390.00v10.42M180.30 400.41h10.07M190.37 400.41h10.07M331.35 390.00v10.42M321.28 400.41h10.07M341.42 390.00v10.42M331.35 400.41h10.07M351.49 390.00v10.42M341.42 400.41h10.07M361.56 390.00v10.42M351.49 400.41h10.07M371.63 390.00v10.42M361.56 400.41h10.07M381.70 390.00v10.42M371.63 400.41h10.07M391.77 390.00v10.42M381.70 400.41h10.07M401.84 390.00v10.42M391.77 400.41h10.07M411.91 390.00v10.42M401.84 400.41h10.07M421.98 390.00v10.42M411.91 400.41h10.07M432.05 390.00v10.42M421.98 400.41h10.07M160.16 400.41v10.42M150.09 410.83h10.07M170.23 400.41v10.42M160.16 410.83h10.07M180.30 400.41v10.42M170.23 410.83h10.07M190.37 400.41v10.42M180.30 410.83h10.07M331.35 400.41v10.42M321.28 410.83h10.07M341.42 400.41v10.42M331.35 410.83h10.07M351.49 400.41v10.42M341.42 410.83h10.07M361.56 400.41v10.42M351.49 410.83h10.07M371.63 400.41v10.42M361.56 410.83h10.07M381.70 400.41v10.42M371.63 410.83h10.07M391.77 400.41v10.42M381.70 410.83h10.07M401.84 400.41v10.42M391.77 410.83h10.07M411.91 400.41v10.42M401.84 410.83h10.07M421.98 400.41v10.42M411.91 410.83h10.07M421.98 410.83h10.07M160.16 410.83v10.42M150.09 421.25h10.07M170.23 410.83v10.42M160.16 421.25h10.07M180.30 410.83v10.42M170.23 421.25h10.07M180.30 421.25h10.07M331.35 410.83v10.42M321.28 421.25h10.07M341.42 410.83v10.42M331.35 421.25h10.07M351.49 410.83v10.42M341.42 421.25h10.07M361.56 410.83v10.42M351.49 421.25h10.07M371.63 410.83v10.42M361.56 421.25h10.07M381.70 410.83v10.42M371.63 421.25h10.07M391.77 410.83v10.42M381.70 421.25h10.07M401.84 410.83v10.42M391.77 421.25h10.07M411.91 410.83v10.42M401.84 421.25h10.07M421.98 410.83v10.42M411.91 421.25h10.07M160.16 421.25v10.42M150.09 431.67h10.07M170.23 421.25v10.42M180.30 421.25v10.42M331.35 421.25v10.42M321.28 431.67h10.07M341.42 421.25v10.42M331.35 431.67h10.07M351.49 421.25v10.42M341.42 431.67h10.07M361.56 421.25v10.42M351.49 431.67h10.07M371.63 421.25v10.42M361.56 431.67h10.07M381.70 421.25v10.42M371.63 431.67h10.07M391.77 421.25v10.42M381.70 431.67h10.07M401.84 421.25v10.42M391.77 431.67h10.07M411.91 421.25v10.42M401.84 431.67h10.07M331.35 431.67v10.42M321.28 442.08h10.07M341.42 431.67v10.42M331.35 442.08h10.07M351.49 431.67v10.42M341.42 442.08h10.07M361.56 431.67v10.42M351.49 442.08h10.07M371.63 431.67v10.42M361.56 442.08h10.07M381.70 431.67v10.42M371.63 442.08h10.07M391.77 431.67v10.42M381.70 442.08h10.07M401.84 431.67v10.42M391.77 442.08h10.07M331.35 442.08v10.42M321.28 452.50h10.07M341.42 442.08v10.42M331.35 452.50h10.07M351.49 442.08v10.42M341.42 452.50h10.07M361.56 442.08v10.42M351.49 452.50h10.07M371.63 442.08v10.42M361.56 452.50h10.07M381.70 442.08v10.42M371.63 452.50h10.07M391.77 442.08v10.42M381.70 452.50h10.07M331.35 452.50v10.42M341.42 452.50v10.42M331.35 462.92h10.07M351.49 452.50v10.42M341.42 462.92h10.07M361.56 452.50v10.42M371.63 452.50v10.42M361.56 462.92h10.07M381.70 452.50v10.42M371.63 462.92h10.07M381.70 462.92h10.07M341.42 462.92v10.42M371.63 462.92v10.42M381.70 462.92v10.42M371.63 473.34h10.07M381.70 473.34h10.07M381.70 473.34v10.42" stroke="#fff" stroke-opacity="0.13" stroke-width="0.6" fill="none"/>
<g fill="none" stroke="#525252" stroke-width="1.9" stroke-linejoin="round">
<path d="M230.0 69.1 L231.6 68.2 L234.0 67.1 L234.8 65.9 L236.2 63.7 L237.0 63.1 L236.8 62.0 L237.9 59.3 L239.0 58.1 L241.1 57.0 L242.1 56.1 L243.0 54.5 L244.0 54.1 L245.5 53.7 L246.5 52.5 L248.0 50.4 L249.0 50.1 L249.9 48.3 L250.0 46.1 L249.2 43.3 L249.0 42.0 L250.1 40.2 L250.4 39.1 L250.9 37.5 L251.0 35.0 L252.5 34.4 L254.2 33.5 L256.0 31.6 L258.6 30.7 L259.4 30.7 L262.0 31.0 L264.3 32.4 L265.0 34.0 L267.2 33.9 L269.0 34.4 L270.0 36.0 L271.0 38.0 L272.7 39.1 L275.0 40.0 L277.1 40.2 L279.0 39.0 L281.1 40.7 L282.5 41.0 L283.9 43.2 L284.5 43.1 L285.0 45.0 L285.3 47.5 L285.0 48.5 L284.0 50.0 L283.4 51.2 L282.6 53.5 L281.0 55.0 L281.1 56.3 L282.6 59.8 L282.5 61.0 L283.3 62.8 L285.3 63.1 L287.0 65.0 L288.1 67.0 L290.0 68.0 L291.3 68.7 L291.5 70.2 L292.0 72.5 L294.0 72.9 L296.0 74.7 L297.0 74.5 L298.0 76.7 L298.7 76.5 L300.2 77.8 L301.0 80.0 L302.5 80.8 L305.0 82.0 L306.4 82.9 L306.7 85.6 L308.4 87.3 L310.0 88.0 L312.3 88.1 L313.3 88.7 L315.0 89.0 L316.7 89.7 L318.1 90.2 L320.2 90.5 L321.0 91.0 L322.4 91.9 L324.0 92.0 L322.9 93.3 L323.5 95.4 L322.0 97.0 L322.2 97.8 L322.2 100.5 L322.5 102.0 L321.9 104.2 L323.1 105.3 L323.0 108.0 L323.6 109.5 L324.1 110.9 L324.6 113.2 L323.8 113.7 L325.0 116.0 L326.0 118.5 L325.9 119.3 L327.0 121.0 L329.2 119.7 L331.0 119.0 L332.1 117.3 L333.4 116.5 L335.0 115.0 L336.7 114.3 L339.0 114.0 L340.5 115.2 L341.0 118.0 L341.1 120.1 L340.7 120.9 L341.0 123.0 L342.8 123.9 L343.1 125.6 L345.0 127.0 L346.3 128.0 L346.7 130.1 L348.0 132.0 L350.2 132.9 L351.9 133.4 L353.0 135.0 L353.7 136.9 L355.7 138.3 L356.0 140.0 L357.0 140.1 L359.1 141.0 L361.0 142.8 L362.0 143.0 L363.1 143.3 L365.9 144.6 L367.0 145.0 L369.2 145.4 L369.7 146.0 L372.0 147.0 L372.8 148.3 L372.4 150.2 L373.0 152.0 L372.1 153.3 L372.2 154.4 L369.9 157.3 L370.0 158.0 L369.3 160.2 L367.2 161.4 L366.0 162.0 L365.4 162.9 L363.8 165.2 L362.0 166.0 L361.3 167.3 L359.6 168.2 L358.5 169.0 L358.0 171.0 L356.9 171.9 L356.0 172.7 L354.9 175.1 L353.0 176.0 L354.7 178.2 L355.0 179.0 L357.3 180.1 L357.5 181.4 L360.0 182.0 L360.8 182.7 L362.9 184.0 L364.0 185.0 L365.5 186.4 L367.5 186.1 L369.0 187.0 L369.2 189.3 L370.3 190.8 L371.0 192.0 L370.7 193.0 L371.0 195.0 L372.6 197.0 L374.0 198.0 L375.1 198.8 L378.1 199.2 L379.0 199.0 L380.9 197.2 L381.9 197.6 L383.0 196.0 L383.9 195.1 L385.9 195.0 L388.0 194.5 L387.6 196.3 L388.0 197.4 L386.5 199.5 L387.0 202.0 L385.9 202.9 L386.9 205.9 L385.7 207.0 L385.6 208.5 L386.5 209.7 L387.2 211.7 L388.0 213.0 L389.1 214.4 L389.5 216.0 L391.0 218.0 L389.9 219.6 L390.4 220.8 L388.8 222.0 L389.0 224.0 L389.8 225.4 L391.5 226.3 L392.5 228.0 L393.0 229.0 L394.2 229.8 L395.7 231.3 L397.0 232.0 L396.4 233.8 L395.9 234.6 L395.6 236.8 L395.0 238.0 L392.9 239.4 L392.2 241.6 L391.0 242.5 L389.7 243.0 L387.0 244.0 L388.7 246.5 L389.0 248.0 L387.6 249.6 L386.4 251.9 L386.0 253.0 L384.6 253.2 L383.2 252.4 L381.0 251.7 L379.4 252.1 L376.3 252.4 L375.0 252.5 L372.5 252.4 L372.1 252.7 L370.0 254.0 L368.2 254.3 L367.7 256.0 L368.8 257.5 L367.8 260.6 L369.0 262.0 L369.0 264.3 L370.6 265.9 L371.0 267.0 L371.3 268.6 L370.0 270.0 L372.5 270.2 L374.0 272.0 L375.5 274.0 L376.0 276.0 L376.7 277.3 L377.1 280.7 L377.0 282.0 L375.9 283.7 L376.4 286.6 L376.0 288.0 L374.6 288.7 L373.6 290.7 L373.4 291.6 L372.0 293.0 L370.1 293.8 L368.4 294.9 L367.0 296.0 L364.5 296.5 L364.3 296.9 L362.2 296.9 L360.0 298.0 L359.3 299.8 L358.3 300.7 L357.0 302.0 L355.2 302.7 L354.2 302.4 L351.1 303.9 L350.0 304.0 L349.0 304.5 L346.4 305.2 L344.2 304.9 L343.0 305.7 L340.5 305.6 L338.7 304.8 L337.0 305.0 L336.0 306.8 L334.0 307.3 L333.0 308.0 L331.1 308.9 L329.6 308.1 L327.3 307.9 L326.0 309.0 L324.6 310.1 L322.8 311.4 L322.0 313.0 L322.0 315.1 L322.1 317.2 L323.0 318.0 L322.0 319.8 L320.9 321.9 L320.0 323.0 L319.5 324.8 L318.0 326.7 L317.0 328.0 L316.3 328.8 L314.7 330.8 L313.0 331.0 L312.3 332.2 L311.2 334.7 L311.0 336.0 L312.6 337.8 L314.3 337.6 L315.0 339.0 L313.9 340.2 L313.3 342.5 L313.8 344.5 L312.2 346.0 L312.0 347.0 L310.2 347.4 L309.4 347.3 L306.8 349.1 L306.0 349.0 L304.0 349.1 L302.8 350.0 L301.0 350.0 L298.5 350.4 L297.6 351.3 L296.0 352.0 L294.5 353.8 L294.8 355.1 L293.0 357.0 L292.4 358.0 L291.3 360.6 L291.0 362.0 L291.0 364.3 L293.0 364.6 L293.0 367.0 L293.3 368.3 L292.5 370.4 L291.2 371.8 L291.0 373.0 L289.8 374.3 L287.6 374.9 L287.3 375.5 L285.0 376.0 L283.1 375.7 L281.0 376.4 L279.0 377.0 L278.0 378.3 L276.4 378.5 L275.0 380.0 L274.2 381.9 L272.5 384.0 L272.0 385.0 L270.9 385.7 L270.1 387.1 L268.0 389.0 L266.0 389.7 L264.8 389.8 L263.0 390.0 L261.3 389.4 L258.7 388.4 L257.0 388.5 L254.6 389.0 L254.1 388.9 L252.0 389.0 L251.2 387.3 L249.5 386.0 L248.6 384.3 L249.1 382.2 L248.0 381.1 L247.5 380.0 L246.8 378.4 L244.9 377.2 L244.0 376.0 L242.1 376.1 L239.7 375.9 L238.0 375.0 L235.7 373.9 L234.0 373.0 L233.0 373.0 L232.1 374.4 L229.8 374.5 L229.0 376.0 L226.9 377.4 L225.0 378.0 L223.5 378.4 L221.2 377.4 L219.0 378.0 L217.8 379.1 L217.0 381.4 L216.0 383.0 L214.5 384.2 L214.5 385.5 L213.0 388.0 L212.2 389.7 L211.1 389.8 L209.0 391.0 L207.4 391.1 L205.9 391.8 L204.0 391.0 L203.3 392.0 L202.6 393.6 L201.0 395.0 L200.5 397.1 L198.8 398.8 L199.0 400.0 L197.6 400.7 L195.7 401.3 L194.0 402.0 L193.1 403.7 L192.5 405.3 L193.0 407.0 L194.2 408.4 L195.0 410.0 L193.8 411.8 L193.0 411.4 L191.0 413.0 L190.5 415.2 L189.0 417.0 L186.9 418.1 L185.9 418.9 L185.0 421.0 L185.1 423.4 L184.7 425.0 L185.0 426.0 L183.3 426.4 L181.0 428.0 L179.9 428.5 L178.4 429.0 L176.0 429.0 L175.1 429.7 L173.9 431.7 L172.0 432.0 L171.3 432.9 L169.8 434.0 L168.0 435.0 L165.7 434.6 L163.9 435.2 L163.0 436.0 L160.4 435.7 L159.3 435.4 L157.0 435.0 L155.4 433.8 L154.0 432.0 L152.7 430.7 L152.4 429.3 L150.5 428.9 L150.0 427.0 L150.4 424.8 L149.8 423.0 L150.0 421.0 L149.2 419.0 L147.2 417.5 L147.5 415.9 L146.0 415.0 L145.6 412.8 L144.8 411.1 L145.0 410.0 L146.8 408.4 L149.0 408.0 L148.9 405.7 L149.8 404.7 L151.0 403.0 L149.9 400.5 L150.2 399.5 L150.0 398.0 L151.3 395.9 L151.8 395.2 L153.0 394.0 L153.7 394.3 L155.5 392.3 L157.5 391.9 L159.0 392.0 L160.9 390.7 L161.7 389.2 L164.0 389.0 L166.4 388.1 L168.0 388.0 L170.2 387.9 L172.1 387.7 L173.0 388.0 L174.1 386.1 L176.0 385.0 L178.2 384.6 L179.1 383.0 L181.0 383.0 L183.3 383.3 L185.0 382.0 L187.2 380.2 L189.0 380.0 L187.5 377.6 L187.1 375.9 L187.0 375.0 L184.6 374.3 L184.3 372.5 L182.0 372.0 L181.5 371.0 L179.8 370.7 L178.0 369.0 L177.5 367.2 L175.2 367.2 L175.0 365.3 L173.0 365.0 L171.4 364.3 L169.8 362.3 L169.0 361.6 L168.0 360.0 L167.1 358.4 L165.1 358.4 L163.0 357.0 L162.6 355.6 L161.0 354.0 L161.0 352.0 L163.4 351.4 L164.2 350.9 L166.0 351.0 L168.5 350.0 L170.0 349.0 L169.9 346.8 L171.0 345.8 L171.0 344.0 L170.4 341.8 L169.0 340.0 L167.5 337.9 L166.0 337.0 L165.4 334.9 L163.9 334.9 L163.3 332.6 L162.0 332.0 L160.8 331.1 L160.7 329.6 L160.4 327.4 L159.0 326.0 L159.3 324.4 L158.1 321.8 L158.0 320.0 L156.3 318.5 L156.8 316.7 L155.0 316.0 L153.5 314.3 L151.0 314.3 L150.0 313.0 L147.9 311.6 L146.1 311.9 L145.0 311.0 L144.1 308.2 L143.0 307.0 L143.2 306.1 L143.9 303.8 L145.0 302.0 L145.2 300.5 L145.8 298.5 L146.0 296.0 L145.7 293.5 L144.8 291.3 L145.0 290.0 L144.9 287.7 L142.9 287.5 L143.0 285.0 L141.8 284.0 L141.0 281.6 L141.0 280.0 L140.3 278.6 L140.7 276.2 L140.7 274.6 L140.0 272.0 L139.7 270.2 L139.9 267.3 L140.0 266.0 L140.5 264.4 L140.4 262.0 L139.8 260.7 L139.7 259.0 L140.7 256.8 L140.6 256.0 L140.7 254.6 L142.0 253.0 L142.9 251.4 L143.3 250.2 L143.0 248.2 L144.0 247.0 L145.3 245.2 L144.9 243.3 L145.0 241.9 L146.0 241.0 L147.7 240.1 L148.6 239.2 L149.0 237.0 L150.5 236.4 L151.7 234.2 L153.0 233.0 L155.1 232.4 L156.4 230.3 L157.0 229.0 L158.8 227.5 L160.5 227.0 L161.0 225.0 L162.0 224.4 L163.1 221.6 L165.0 221.0 L166.4 219.3 L167.0 218.6 L168.0 217.0 L167.6 215.8 L168.3 213.6 L169.0 212.0 L168.2 210.9 L168.4 208.6 L166.8 207.2 L167.0 206.0 L166.8 203.6 L166.4 203.1 L167.0 201.0 L168.3 200.5 L169.8 199.0 L170.0 197.0 L169.5 194.4 L169.0 192.9 L169.0 191.0 L169.0 189.1 L168.8 187.6 L169.0 185.0 L168.0 183.3 L168.3 182.2 L167.0 180.0 L166.3 177.9 L166.9 175.8 L166.0 175.0 L164.4 173.1 L164.0 171.0 L162.7 169.4 L160.6 168.5 L160.0 168.0 L159.5 166.3 L158.8 165.2 L157.0 163.0 L156.3 160.7 L154.0 160.0 L152.5 157.8 L151.9 157.1 L151.0 156.0 L151.6 155.1 L153.0 153.7 L155.0 153.0 L155.6 152.2 L156.9 149.9 L158.0 149.0 L158.2 147.5 L160.2 146.6 L161.0 145.0 L163.4 144.9 L163.9 143.0 L166.0 143.0 L168.1 142.8 L169.3 142.2 L171.0 141.0 L172.1 139.3 L172.4 137.5 L174.0 137.0 L175.2 136.3 L176.7 134.3 L177.0 133.0 L178.3 132.1 L179.5 129.8 L180.0 128.0 L179.5 126.4 L178.8 124.1 L179.0 123.0 L178.3 122.5 L177.1 120.2 L176.0 119.0 L176.1 117.3 L177.2 115.6 L177.0 114.0 L179.4 112.4 L180.0 112.0 L182.0 111.0 L183.5 110.9 L185.9 110.4 L187.0 109.0 L188.9 107.5 L190.5 107.8 L192.0 107.0 L193.5 106.1 L195.4 106.7 L195.8 105.8 L198.0 105.0 L199.3 104.5 L201.7 104.8 L202.7 103.0 L204.0 103.0 L206.4 101.8 L207.1 102.2 L209.0 101.0 L210.0 99.6 L212.4 99.8 L213.0 98.0 L213.0 96.2 L213.3 94.0 L214.0 93.0 L214.6 92.5 L215.3 89.9 L217.0 89.0 L215.5 86.8 L215.0 86.0 L213.5 85.4 L212.0 84.0 L212.1 82.2 L211.0 80.0 L213.0 77.7 L214.0 77.0 L215.1 76.8 L217.0 75.0 L217.9 73.6 L220.3 72.6 L222.0 72.0 L224.1 70.2 L226.0 70.0 L227.6 70.3 Z"/>
<path d="M390.0 311.0 L391.7 310.9 L393.0 310.0 L395.5 311.8 L397.0 312.0 L398.9 314.2 L400.0 315.0 L400.9 315.6 L404.1 316.6 L405.0 317.0 L407.3 317.0 L408.3 317.9 L410.0 319.0 L411.7 318.8 L412.5 317.9 L415.0 318.0 L416.3 318.4 L418.8 316.8 L420.0 317.0 L422.2 316.1 L423.5 315.7 L425.0 316.0 L425.8 316.3 L427.8 314.8 L430.0 315.0 L432.5 315.5 L433.0 315.6 L435.0 314.7 L436.6 314.2 L438.0 313.0 L439.5 312.7 L442.0 311.0 L444.3 311.3 L446.0 310.0 L445.2 310.9 L443.0 312.5 L441.3 312.7 L440.0 314.0 L438.9 315.3 L439.0 318.0 L439.3 319.8 L439.5 321.6 L441.0 323.0 L441.1 324.3 L442.2 326.3 L442.0 328.0 L442.0 329.6 L443.0 330.6 L443.0 333.0 L444.1 334.2 L444.1 337.6 L444.0 339.0 L443.1 341.5 L443.6 343.1 L443.7 345.0 L443.3 346.2 L444.0 349.8 L445.0 351.0 L445.5 352.8 L447.7 354.4 L448.0 355.0 L449.7 354.7 L452.0 355.3 L454.0 354.7 L455.3 354.9 L458.5 354.8 L460.0 354.0 L460.2 356.8 L462.0 358.0 L462.0 359.4 L463.5 362.0 L464.0 363.0 L464.6 364.9 L465.7 365.3 L465.2 366.5 L464.3 367.9 L464.1 370.0 L462.6 371.3 L462.8 374.6 L461.7 375.7 L460.3 376.9 L460.1 379.7 L459.6 380.6 L457.3 380.9 L456.1 382.1 L454.7 383.9 L452.9 384.5 L452.3 386.0 L451.1 388.4 L451.3 389.3 L448.9 390.5 L448.1 391.7 L447.3 391.9 L445.8 394.1 L444.1 394.1 L443.1 396.2 L441.7 397.3 L439.0 398.0 L437.7 398.9 L435.5 400.3 L434.2 400.4 L432.9 401.3 L432.1 403.1 L429.7 403.7 L429.9 405.8 L428.5 408.0 L428.9 409.9 L429.3 410.6 L429.7 412.4 L429.8 413.7 L430.0 417.0 L430.5 418.0 L429.9 419.3 L427.8 419.9 L426.5 421.3 L424.5 421.7 L424.3 423.5 L422.5 423.7 L420.9 425.5 L420.3 426.7 L418.5 427.7 L417.6 429.3 L415.9 430.4 L414.5 431.3 L413.7 432.5 L413.4 434.7 L411.7 436.9 L411.3 438.0 L410.7 439.6 L408.8 440.9 L408.4 442.6 L408.0 443.7 L406.1 443.7 L404.5 443.1 L402.4 442.0 L400.8 443.1 L400.1 444.2 L398.4 444.5 L397.5 446.9 L397.8 448.4 L397.4 450.7 L396.0 451.7 L395.4 453.5 L394.1 455.8 L394.0 457.0 L394.4 458.6 L393.7 460.7 L393.0 462.0 L392.7 463.1 L392.1 465.5 L391.0 467.0 L391.8 468.9 L392.0 471.0 L391.5 473.1 L390.9 474.7 L390.0 476.0 L387.7 476.9 L387.0 479.0 L385.6 480.3 L383.9 481.3 L383.0 482.0 L381.2 482.2 L379.0 484.0 L378.0 482.0 L377.0 481.0 L375.2 479.0 L374.7 477.8 L374.0 477.0 L372.0 475.2 L371.0 475.0 L369.4 476.3 L368.0 478.0 L366.2 477.7 L364.0 477.0 L362.1 476.2 L361.0 474.0 L359.5 472.2 L359.3 470.5 L359.0 469.0 L357.3 467.6 L357.0 465.0 L355.3 465.2 L354.0 467.0 L353.5 468.0 L352.7 470.1 L352.0 472.0 L351.1 474.4 L350.5 475.2 L349.0 477.0 L347.5 478.2 L345.0 479.0 L343.1 478.2 L341.8 478.8 L340.0 478.5 L338.8 478.5 L336.0 477.0 L335.2 475.2 L334.0 474.0 L334.3 471.2 L332.7 470.1 L333.0 468.0 L332.7 465.9 L332.2 465.7 L331.3 463.4 L331.0 462.0 L329.5 460.3 L329.8 459.1 L328.0 458.0 L327.8 457.5 L326.2 455.1 L325.8 454.2 L324.0 453.0 L322.9 451.4 L322.8 450.3 L321.0 449.0 L319.8 447.6 L318.6 446.5 L318.4 445.0 L318.5 443.0 L319.3 442.2 L319.0 440.0 L319.2 438.1 L321.0 436.0 L321.1 435.2 L322.5 432.6 L322.1 430.9 L323.0 430.0 L324.3 428.1 L324.2 427.0 L324.7 425.7 L325.0 424.0 L325.7 421.4 L326.1 419.7 L326.0 418.0 L325.3 416.2 L324.2 415.1 L323.7 413.3 L323.0 412.0 L323.1 410.2 L321.5 407.6 L322.0 406.0 L322.4 404.7 L323.0 402.0 L324.0 400.1 L322.8 398.5 L324.0 396.0 L324.4 394.6 L325.4 393.2 L325.5 392.2 L326.0 390.0 L325.5 387.8 L325.9 385.5 L325.0 384.0 L324.2 383.1 L323.3 381.6 L323.8 379.4 L323.0 378.0 L322.3 376.5 L323.0 373.4 L322.0 372.0 L322.3 370.1 L322.7 367.7 L323.0 366.0 L323.7 365.1 L326.2 363.3 L327.0 363.0 L328.0 362.8 L330.5 361.8 L330.7 361.1 L333.0 360.0 L335.5 360.5 L336.7 358.6 L338.0 359.0 L340.2 357.5 L341.6 357.8 L343.0 356.0 L343.6 353.4 L343.1 352.7 L343.2 350.2 L344.0 348.0 L344.4 345.9 L345.2 344.2 L344.8 343.3 L346.0 342.0 L345.8 339.7 L347.1 339.4 L348.1 336.9 L348.0 336.0 L349.4 335.2 L351.2 335.0 L353.2 334.3 L354.0 334.0 L355.2 334.7 L357.4 334.9 L360.0 335.0 L362.0 335.6 L364.1 335.0 L365.6 334.7 L368.0 334.5 L369.6 334.8 L372.0 333.6 L373.5 333.9 L376.0 334.0 L377.4 332.1 L378.4 331.6 L379.0 330.0 L378.8 328.8 L379.3 326.4 L380.7 325.1 L381.0 324.0 L382.6 322.3 L382.7 321.2 L384.0 319.0 L384.5 318.0 L385.9 315.7 L388.0 315.0 L389.8 313.3 Z"/>
</g>
<g>
<circle cx="184.5" cy="94.5" r="3.4" fill="#000"/>
<circle cx="184.6" cy="173.5" r="3.4" fill="#000"/>
<circle cx="349.2" cy="177.8" r="3.4" fill="#000"/>
<circle cx="110.0" cy="216.9" r="3.4" fill="#000"/>
<circle cx="256.9" cy="235.8" r="3.4" fill="#000"/>
<circle cx="135.9" cy="244.6" r="3.4" fill="#000"/>
<circle cx="184.5" cy="268.9" r="3.4" fill="#000"/>
<circle cx="131.9" cy="277.9" r="3.4" fill="#000"/>
<circle cx="152.4" cy="343.9" r="3.4" fill="#000"/>
<circle cx="261.1" cy="327.4" r="3.4" fill="#000"/>
<circle cx="321.0" cy="344.1" r="3.4" fill="#000"/>
<circle cx="325.8" cy="347.9" r="3.4" fill="#000"/>
<circle cx="393.7" cy="310.5" r="3.4" fill="#000"/>
<circle cx="446.0" cy="314.6" r="3.4" fill="#000"/>
<circle cx="148.4" cy="398.1" r="3.4" fill="#000"/>
<circle cx="156.0" cy="435.8" r="3.4" fill="#000"/>
<circle cx="273.2" cy="394.0" r="3.4" fill="#000"/>
<circle cx="414.1" cy="394.1" r="3.4" fill="#000"/>
<circle cx="337.7" cy="465.1" r="3.4" fill="#000"/>
<circle cx="417.9" cy="473.0" r="3.4" fill="#000"/>
</g>
<g>
<text x="162.6" y="88.5" textLength="43.8" lengthAdjust="spacingAndGlyphs">Tidjikja</text>
<text x="170.2" y="167.5" textLength="28.7" lengthAdjust="spacingAndGlyphs">Kiffa</text>
<text x="331.5" y="171.8" textLength="35.4" lengthAdjust="spacingAndGlyphs">Nema</text>
<text x="89.3" y="210.9" textLength="41.5" lengthAdjust="spacingAndGlyphs">Matam</text>
<text x="210.7" y="229.8" textLength="92.4" lengthAdjust="spacingAndGlyphs">Nioro-Du-Sahel</text>
<text x="119.9" y="238.6" textLength="32.0" lengthAdjust="spacingAndGlyphs">Bakel</text>
<text x="166.8" y="262.9" textLength="35.3" lengthAdjust="spacingAndGlyphs">Kayes</text>
<text x="107.1" y="271.9" textLength="49.5" lengthAdjust="spacingAndGlyphs">Goudiry</text>
<text x="121.7" y="337.9" textLength="61.4" lengthAdjust="spacingAndGlyphs">Kedougou</text>
<text x="249.0" y="341.2" textLength="24.2" lengthAdjust="spacingAndGlyphs">Kita</text>
<text x="281.5" y="338.1" textLength="78.9" lengthAdjust="spacingAndGlyphs">Bamako-Ville</text>
<text x="282.0" y="341.9" textLength="87.6" lengthAdjust="spacingAndGlyphs">Bamako-Senou</text>
<text x="375.9" y="304.5" textLength="35.6" lengthAdjust="spacingAndGlyphs">Segou</text>
<text x="435.4" y="308.6" textLength="21.1" lengthAdjust="spacingAndGlyphs">San</text>
<text x="134.3" y="392.1" textLength="28.2" lengthAdjust="spacingAndGlyphs">Labe</text>
<text x="133.1" y="429.8" textLength="45.7" lengthAdjust="spacingAndGlyphs">Mamou</text>
<text x="253.8" y="388.0" textLength="38.8" lengthAdjust="spacingAndGlyphs">Siguiri</text>
<text x="392.6" y="388.1" textLength="42.9" lengthAdjust="spacingAndGlyphs">Sikasso</text>
<text x="312.6" y="459.1" textLength="50.1" lengthAdjust="spacingAndGlyphs">Odienne</text>
<text x="392.3" y="467.0" textLength="51.2" lengthAdjust="spacingAndGlyphs">Korhogo</text>
</g>
<rect x="344" y="22" width="140" height="94" fill="#fff"/>
<rect x="351.2" y="28.5" width="26.7" height="26.9" fill="#FC686B"/>
<rect x="351.2" y="55.4" width="26.7" height="26.9" fill="#FBF30E"/>
<rect x="351.2" y="82.3" width="26.7" height="26.9" fill="#4080F0"/>
<text class="lg" x="386.1" y="46.4" textLength="77.3" lengthAdjust="spacingAndGlyphs">Below normal</text>
<text class="lg" x="386.1" y="73.3" textLength="86.7" lengthAdjust="spacingAndGlyphs">Around normal</text>
<text class="lg" x="386.1" y="100.2" textLength="70.6" lengthAdjust="spacingAndGlyphs">Over normal</text>
<line x1="60.25" y1="8" x2="60.25" y2="507.75" stroke="#000" stroke-width="1.5"/>
<line x1="59.5" y1="507" x2="484.7" y2="507" stroke="#000" stroke-width="1.5"/>
<line x1="79.6" y1="507.5" x2="79.6" y2="511" stroke="#333" stroke-width="1.1"/>
<text x="64.8" y="523.2" textLength="29.5" lengthAdjust="spacingAndGlyphs" class="ax">14°W</text>
<line x1="160.2" y1="507.5" x2="160.2" y2="511" stroke="#333" stroke-width="1.1"/>
<text x="145.4" y="523.2" textLength="29.5" lengthAdjust="spacingAndGlyphs" class="ax">12°W</text>
<line x1="240.7" y1="507.5" x2="240.7" y2="511" stroke="#333" stroke-width="1.1"/>
<text x="226.0" y="523.2" textLength="29.5" lengthAdjust="spacingAndGlyphs" class="ax">10°W</text>
<line x1="321.3" y1="507.5" x2="321.3" y2="511" stroke="#333" stroke-width="1.1"/>
<text x="310.9" y="523.2" textLength="23.5" lengthAdjust="spacingAndGlyphs" class="ax">8°W</text>
<line x1="401.8" y1="507.5" x2="401.8" y2="511" stroke="#333" stroke-width="1.1"/>
<text x="391.5" y="523.2" textLength="23.5" lengthAdjust="spacingAndGlyphs" class="ax">6°W</text>
<line x1="482.4" y1="507.5" x2="482.4" y2="511" stroke="#333" stroke-width="1.1"/>
<text x="472.0" y="523.2" textLength="23.5" lengthAdjust="spacingAndGlyphs" class="ax">4°W</text>
<line x1="56.3" y1="452.5" x2="60" y2="452.5" stroke="#333" stroke-width="1.1"/>
<text x="26.1" y="457.2" textLength="26.8" lengthAdjust="spacingAndGlyphs" class="ax">10°N</text>
<line x1="56.3" y1="369.2" x2="60" y2="369.2" stroke="#333" stroke-width="1.1"/>
<text x="26.1" y="373.9" textLength="26.8" lengthAdjust="spacingAndGlyphs" class="ax">12°N</text>
<line x1="56.3" y1="285.8" x2="60" y2="285.8" stroke="#333" stroke-width="1.1"/>
<text x="26.1" y="290.5" textLength="26.8" lengthAdjust="spacingAndGlyphs" class="ax">14°N</text>
<line x1="56.3" y1="202.5" x2="60" y2="202.5" stroke="#333" stroke-width="1.1"/>
<text x="26.1" y="207.2" textLength="26.8" lengthAdjust="spacingAndGlyphs" class="ax">16°N</text>
<line x1="56.3" y1="119.1" x2="60" y2="119.1" stroke="#333" stroke-width="1.1"/>
<text x="26.1" y="123.8" textLength="26.8" lengthAdjust="spacingAndGlyphs" class="ax">18°N</text>
<line x1="56.3" y1="35.8" x2="60" y2="35.8" stroke="#333" stroke-width="1.1"/>
<text x="26.1" y="40.5" textLength="26.8" lengthAdjust="spacingAndGlyphs" class="ax">20°N</text>
<text class="ttl" x="237.2" y="541.3" textLength="70.5" lengthAdjust="spacingAndGlyphs">Longitude</text>
<text class="ttl" transform="translate(17.2,260.2) rotate(-90)" x="-30.9" y="0" textLength="61.7" lengthAdjust="spacingAndGlyphs">Latitude</text>
</svg>
</body></html>
